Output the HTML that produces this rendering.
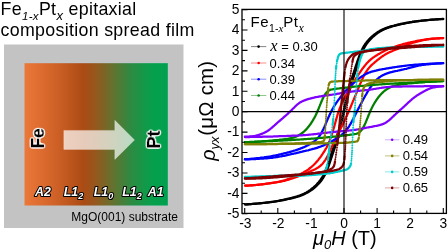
<!DOCTYPE html>
<html><head><meta charset="utf-8"><title>Fe1-xPtx epitaxial composition spread film</title>
<style>
html,body{margin:0;padding:0;background:#fff;}
body{width:448px;height:252px;overflow:hidden;}
svg{display:block;}
text{font-family:"Liberation Sans",sans-serif;fill:#000;}
.ser{font-family:"Liberation Serif",serif;font-style:italic;}
</style></head><body>
<svg width="448" height="252" viewBox="0 0 448 252">
<defs>
<linearGradient id="film" x1="0" y1="0" x2="1" y2="0">
<stop offset="0" stop-color="#ec783a"/>
<stop offset="0.22" stop-color="#cf6127"/>
<stop offset="0.41" stop-color="#ab4b14"/>
<stop offset="0.5" stop-color="#94581e"/>
<stop offset="0.6" stop-color="#6b6e2c"/>
<stop offset="0.74" stop-color="#2e8a42"/>
<stop offset="0.88" stop-color="#089f4c"/>
<stop offset="1" stop-color="#00a04e"/>
</linearGradient>
<linearGradient id="arr" x1="0" y1="0" x2="1" y2="0">
<stop offset="0" stop-color="#fff" stop-opacity="0.72"/>
<stop offset="1" stop-color="#fff" stop-opacity="0.68"/>
</linearGradient>
<filter id="halo" filterUnits="userSpaceOnUse" x="20" y="115" width="155" height="50">
<feGaussianBlur in="SourceAlpha" stdDeviation="1.05" result="g"/>
<feComponentTransfer in="g" result="b"><feFuncA type="linear" slope="5" intercept="-0.25"/></feComponentTransfer>
<feFlood flood-color="#fff" flood-opacity="0.95"/>
<feComposite in2="b" operator="in" result="h"/>
<feMerge><feMergeNode in="h"/><feMergeNode in="SourceGraphic"/></feMerge>
</filter>
<clipPath id="clip"><rect x="242.0" y="9.4" width="204.39999999999998" height="204.0"/></clipPath>
</defs>
<rect width="448" height="252" fill="#fff"/>
<!-- left panel -->
<text id="t1" x="0.6" y="15.1" font-size="17.8" letter-spacing="0.32">Fe<tspan font-size="11.5" font-style="italic" dy="5">1-x</tspan><tspan dy="-5">Pt</tspan><tspan font-size="13" font-style="italic" dy="5">x</tspan><tspan dy="-5"> epitaxial</tspan></text>
<text id="t2" x="0.5" y="36.2" font-size="17.8" letter-spacing="0.32">composition spread film</text>
<rect x="4" y="44.5" width="179.5" height="183.5" fill="#c3c3c3"/>
<rect x="24.2" y="63" width="143.8" height="142.8" fill="url(#film)" stroke="#b9d3e0" stroke-width="0.5" stroke-opacity="0.7"/>
<path d="M63.8,130.4H114.8V120.3L134.5,139.9L114.8,159.5V149.4H63.8Z" fill="url(#arr)" stroke="#fff" stroke-opacity="0.3" stroke-width="0.8"/>
<g font-weight="bold" font-size="17.5" stroke="#000" stroke-width="0.4" stroke-linejoin="round" filter="url(#halo)">
<text transform="translate(44,148.6) rotate(-90)">Fe</text>
<text transform="translate(160.4,148.6) rotate(-90)" font-size="18.2">Pt</text>
</g>
<g font-weight="bold" font-style="italic" font-size="12.4" fill="#fff" stroke="#000" stroke-width="2" stroke-linejoin="round" style="paint-order:stroke">
<text x="35" y="196.4" style="fill:#fff">A2</text>
<text x="63.7" y="196.4" style="fill:#fff">L1<tspan font-size="9" dy="3">2</tspan></text>
<text x="93.7" y="196.4" style="fill:#fff">L1<tspan font-size="9" dy="3">0</tspan></text>
<text x="122.3" y="196.4" style="fill:#fff">L1<tspan font-size="9" dy="3">2</tspan></text>
<text x="147.8" y="196.4" style="fill:#fff">A1</text>
</g>
<text x="71.3" y="221.4" font-size="12">MgO(001) substrate</text>
<!-- plot -->
<g clip-path="url(#clip)">
<path d="M245.2,204.4L246.2,204.3L247.2,204.3L248.2,204.2L249.2,204.1L250.2,204.0L251.2,204.0L252.2,203.9L253.3,203.8L254.3,203.7L255.3,203.7L256.3,203.6L257.3,203.5L258.3,203.4L259.3,203.3L260.3,203.2L261.3,203.1L262.3,203.0L263.3,202.9L264.3,202.8L265.3,202.7L266.3,202.5L267.3,202.4L268.3,202.3L269.3,202.2L270.3,202.0L271.3,201.9L272.3,201.8L273.4,201.6L274.4,201.5L275.4,201.3L276.4,201.1L277.4,201.0L278.4,200.8L279.4,200.6L280.4,200.4L281.4,200.2L282.4,200.0L283.4,199.8L284.4,199.6L285.4,199.4L286.4,199.2L287.4,198.9L288.4,198.7L289.4,198.5L290.4,198.2L291.4,198.0L292.4,197.7L293.5,197.4L294.5,197.2L295.5,196.9L296.5,196.6L297.5,196.3L298.5,195.9L299.5,195.6L300.5,195.2L301.5,194.8L302.5,194.4L303.5,193.9L304.5,193.5L305.5,192.9L306.5,192.4L307.5,191.8L308.5,191.2L309.5,190.5L310.5,189.8L311.5,189.0L312.5,188.2L313.6,187.3L314.6,186.4L315.6,185.5L316.6,184.5L317.6,183.4L318.6,182.3L319.6,181.0L320.6,179.7L321.6,178.2L322.6,176.6L323.1,175.7L323.6,174.7L324.1,173.7L324.6,172.7L325.1,171.6L325.6,170.4L326.1,169.1L326.6,167.8L327.1,166.5L327.6,165.1L328.1,163.7L328.6,162.2L329.1,160.7L329.6,159.2L330.1,157.7L330.6,156.2L331.1,154.6L331.6,153.1L332.1,151.5L332.6,150.0L333.1,148.4L333.7,146.8L334.2,145.2L334.7,143.6L335.2,142.0L335.7,140.3L336.2,138.6L336.7,136.9L337.2,135.1L337.7,133.3L338.2,131.4L338.7,129.5L339.2,127.6L339.7,125.6L340.2,123.6L340.7,121.5L341.2,119.4L341.7,117.3L342.2,115.2L342.7,113.1L343.2,111.0L343.7,108.9L344.2,106.8L344.7,104.7L345.2,102.6L345.7,100.5L346.2,98.5L346.7,96.5L347.2,94.5L347.7,92.6L348.2,90.7L348.7,88.9L349.2,87.1L349.7,85.4L350.2,83.6L350.7,82.0L351.2,80.3L351.7,78.7L352.2,77.1L352.7,75.5L353.2,73.9L353.8,72.4L354.3,70.8L354.8,69.3L355.3,67.7L355.8,66.2L356.3,64.7L356.8,63.2L357.3,61.7L357.8,60.2L358.3,58.8L358.8,57.4L359.3,56.0L359.8,54.7L360.3,53.4L360.8,52.2L361.3,51.1L361.8,50.0L362.3,49.0L362.8,48.0L363.3,47.1L364.3,45.4L365.3,43.9L366.3,42.6L367.3,41.3L368.3,40.2L369.3,39.1L370.3,38.1L371.3,37.1L372.3,36.2L373.3,35.3L374.4,34.5L375.4,33.7L376.4,33.0L377.4,32.3L378.4,31.7L379.4,31.1L380.4,30.5L381.4,30.0L382.4,29.5L383.4,29.1L384.4,28.6L385.4,28.2L386.4,27.9L387.4,27.5L388.4,27.2L389.4,26.9L390.4,26.6L391.4,26.3L392.4,26.0L393.4,25.7L394.5,25.5L395.5,25.2L396.5,25.0L397.5,24.7L398.5,24.5L399.5,24.3L400.5,24.0L401.5,23.8L402.5,23.6L403.5,23.4L404.5,23.2L405.5,23.0L406.5,22.8L407.5,22.6L408.5,22.5L409.5,22.3L410.5,22.1L411.5,22.0L412.5,21.8L413.5,21.7L414.6,21.5L415.6,21.4L416.6,21.2L417.6,21.1L418.6,21.0L419.6,20.9L420.6,20.8L421.6,20.6L422.6,20.5L423.6,20.4L424.6,20.3L425.6,20.2L426.6,20.1L427.6,20.0L428.6,19.9L429.6,19.8L430.6,19.8L431.6,19.7L432.6,19.6L433.6,19.5L434.7,19.4L435.7,19.4L436.7,19.3L437.7,19.2L438.7,19.2L439.7,19.1L440.7,19.0L441.7,19.0L442.7,18.9" fill="none" stroke="#000000" stroke-width="0.7" stroke-opacity="0.7"/>
<path d="M245.2,204.4L246.2,204.3L247.2,204.3L248.2,204.2L249.2,204.1L250.2,204.0L251.2,204.0L252.2,203.9L253.3,203.8L254.3,203.7L255.3,203.7L256.3,203.6L257.3,203.5L258.3,203.4L259.3,203.3L260.3,203.2L261.3,203.1L262.3,203.0L263.3,202.9L264.3,202.8L265.3,202.7L266.3,202.5L267.3,202.4L268.3,202.3L269.3,202.2L270.3,202.0L271.3,201.9L272.3,201.8L273.4,201.6L274.4,201.5L275.4,201.3L276.4,201.1L277.4,201.0L278.4,200.8L279.4,200.6L280.4,200.4L281.4,200.2L282.4,200.0L283.4,199.8L284.4,199.6L285.4,199.4L286.4,199.2L287.4,198.9L288.4,198.7L289.4,198.5L290.4,198.2L291.4,198.0L292.4,197.7L293.5,197.4L294.5,197.2L295.5,196.9L296.5,196.6L297.5,196.3L298.5,195.9L299.5,195.6L300.5,195.2L301.5,194.8L302.5,194.4L303.5,193.9L304.5,193.5L305.5,192.9L306.5,192.4L307.5,191.8L308.5,191.2L309.5,190.5L310.5,189.8L311.5,189.0L312.5,188.2L313.6,187.3L314.6,186.4L315.6,185.5L316.1,185.0L316.6,184.5L317.1,183.9L317.6,183.4L318.1,182.8L318.6,182.3L319.1,181.7L319.6,181.0L320.1,180.4L320.6,179.7L321.1,179.0L321.6,178.2L322.1,177.4L322.6,176.6L323.1,175.7L323.6,174.7L324.1,173.7L324.6,172.7L325.1,171.6L325.6,170.4L326.1,169.1L326.6,167.8L327.1,166.5L327.6,165.1L328.1,163.7L328.6,162.2L329.1,160.7L329.6,159.2L330.1,157.7L330.6,156.2L331.1,154.6L331.6,153.1L332.1,151.5L332.6,150.0L333.1,148.4L333.7,146.8L334.2,145.2L334.7,143.6L335.2,142.0L335.7,140.3L336.2,138.6L336.7,136.9L337.2,135.1L337.7,133.3M348.7,88.9L349.2,87.1L349.7,85.4L350.2,83.6L350.7,82.0L351.2,80.3L351.7,78.7L352.2,77.1L352.7,75.5L353.2,73.9L353.8,72.4L354.3,70.8L354.8,69.3L355.3,67.7L355.8,66.2L356.3,64.7L356.8,63.2L357.3,61.7L357.8,60.2L358.3,58.8L358.8,57.4L359.3,56.0L359.8,54.7L360.3,53.4L360.8,52.2L361.3,51.1L361.8,50.0L362.3,49.0L362.8,48.0L363.3,47.1L363.8,46.2L364.3,45.4L364.8,44.7L365.3,43.9L365.8,43.2L366.3,42.6L366.8,41.9L367.3,41.3L367.8,40.8L368.3,40.2L368.8,39.6L369.3,39.1L369.8,38.6L370.3,38.1L370.8,37.6L371.8,36.7L372.8,35.8L373.9,34.9L374.9,34.1L375.9,33.4L376.9,32.7L377.9,32.0L378.9,31.4L379.9,30.8L380.9,30.3L381.9,29.8L382.9,29.3L383.9,28.9L384.9,28.4L385.9,28.0L386.9,27.7L387.9,27.3L388.9,27.0L389.9,26.7L390.9,26.4L391.9,26.1L392.9,25.9L394.0,25.6L395.0,25.3L396.0,25.1L397.0,24.8L398.0,24.6L399.0,24.4L400.0,24.2L401.0,23.9L402.0,23.7L403.0,23.5L404.0,23.3L405.0,23.1L406.0,22.9L407.0,22.7L408.0,22.5L409.0,22.4L410.0,22.2L411.0,22.0L412.0,21.9L413.0,21.7L414.1,21.6L415.1,21.4L416.1,21.3L417.1,21.2L418.1,21.1L419.1,20.9L420.1,20.8L421.1,20.7L422.1,20.6L423.1,20.5L424.1,20.4L425.1,20.3L426.1,20.2L427.1,20.1L428.1,20.0L429.1,19.9L430.1,19.8L431.1,19.7L432.1,19.6L433.1,19.6L434.2,19.5L435.2,19.4L436.2,19.3L437.2,19.3L438.2,19.2L439.2,19.1L440.2,19.1L441.2,19.0L442.2,18.9L443.2,18.9" fill="none" stroke="#000000" stroke-width="2.25" stroke-linecap="round" stroke-linejoin="round"/>
<path d="M338.2,131.4h0M338.7,129.5h0M339.2,127.6h0M339.7,125.6h0M340.2,123.6h0M340.7,121.5h0M341.2,119.4h0M341.7,117.3h0M342.2,115.2h0M342.7,113.1h0M343.2,111.0h0M343.7,108.9h0M344.2,106.8h0M344.7,104.7h0M345.2,102.6h0M345.7,100.5h0M346.2,98.5h0M346.7,96.5h0M347.2,94.5h0M347.7,92.6h0M348.2,90.7h0" fill="none" stroke="#000000" stroke-width="1.9" stroke-linecap="round"/>
<path d="M245.2,204.5L246.2,204.4L247.2,204.3L248.2,204.3L249.2,204.2L250.2,204.1L251.2,204.1L252.2,204.0L253.3,203.9L254.3,203.8L255.3,203.8L256.3,203.7L257.3,203.6L258.3,203.5L259.3,203.4L260.3,203.3L261.3,203.2L262.3,203.1L263.3,203.0L264.3,202.9L265.3,202.8L266.3,202.7L267.3,202.6L268.3,202.5L269.3,202.3L270.3,202.2L271.3,202.1L272.3,202.0L273.4,201.8L274.4,201.7L275.4,201.5L276.4,201.4L277.4,201.2L278.4,201.0L279.4,200.9L280.4,200.7L281.4,200.5L282.4,200.3L283.4,200.1L284.4,199.9L285.4,199.7L286.4,199.5L287.4,199.2L288.4,199.0L289.4,198.8L290.4,198.6L291.4,198.3L292.4,198.1L293.5,197.8L294.5,197.5L295.5,197.3L296.5,197.0L297.5,196.7L298.5,196.4L299.5,196.1L300.5,195.7L301.5,195.4L302.5,195.0L303.5,194.5L304.5,194.1L305.5,193.6L306.5,193.1L307.5,192.6L308.5,192.0L309.5,191.4L310.5,190.7L311.5,190.0L312.5,189.3L313.6,188.5L314.6,187.6L315.6,186.7L316.6,185.8L317.6,184.8L318.6,183.8L319.6,182.6L320.6,181.5L321.6,180.2L322.6,178.7L323.6,177.2L324.6,175.4L325.1,174.4L325.6,173.4L326.1,172.3L326.6,171.2L327.1,170.0L327.6,168.7L328.1,167.4L328.6,166.0L329.1,164.6L329.6,163.2L330.1,161.7L330.6,160.2L331.1,158.7L331.6,157.2L332.1,155.7L332.6,154.1L333.1,152.6L333.7,151.0L334.2,149.5L334.7,147.9L335.2,146.3L335.7,144.7L336.2,143.1L336.7,141.4L337.2,139.8L337.7,138.0L338.2,136.3L338.7,134.5L339.2,132.7L339.7,130.8L340.2,128.9L340.7,126.9L341.2,124.9L341.7,122.9L342.2,120.8L342.7,118.7L343.2,116.6L343.7,114.5L344.2,112.4L344.7,110.3L345.2,108.2L345.7,106.1L346.2,104.0L346.7,101.9L347.2,99.8L347.7,97.8L348.2,95.8L348.7,93.9L349.2,92.0L349.7,90.1L350.2,88.3L350.7,86.5L351.2,84.8L351.7,83.1L352.2,81.4L352.7,79.8L353.2,78.2L353.8,76.6L354.3,75.0L354.8,73.4L355.3,71.9L355.8,70.3L356.3,68.8L356.8,67.2L357.3,65.7L357.8,64.2L358.3,62.7L358.8,61.2L359.3,59.7L359.8,58.3L360.3,56.9L360.8,55.6L361.3,54.3L361.8,53.0L362.3,51.8L362.8,50.7L363.3,49.7L363.8,48.7L364.3,47.7L364.8,46.8L365.8,45.2L366.8,43.7L367.8,42.4L368.8,41.1L369.8,40.0L370.8,38.9L371.8,37.9L372.8,37.0L373.9,36.1L374.9,35.2L375.9,34.4L376.9,33.6L377.9,32.9L378.9,32.2L379.9,31.6L380.9,31.0L381.9,30.5L382.9,29.9L383.9,29.5L384.9,29.0L385.9,28.6L386.9,28.2L387.9,27.8L388.9,27.5L389.9,27.1L390.9,26.8L391.9,26.5L392.9,26.2L394.0,26.0L395.0,25.7L396.0,25.4L397.0,25.2L398.0,24.9L399.0,24.7L400.0,24.5L401.0,24.2L402.0,24.0L403.0,23.8L404.0,23.6L405.0,23.4L406.0,23.2L407.0,23.0L408.0,22.8L409.0,22.6L410.0,22.4L411.0,22.3L412.0,22.1L413.0,21.9L414.1,21.8L415.1,21.6L416.1,21.5L417.1,21.4L418.1,21.2L419.1,21.1L420.1,21.0L421.1,20.9L422.1,20.7L423.1,20.6L424.1,20.5L425.1,20.4L426.1,20.3L427.1,20.2L428.1,20.1L429.1,20.0L430.1,19.9L431.1,19.8L432.1,19.7L433.1,19.7L434.2,19.6L435.2,19.5L436.2,19.4L437.2,19.4L438.2,19.3L439.2,19.2L440.2,19.1L441.2,19.1L442.2,19.0L443.2,19.0" fill="none" stroke="#000000" stroke-width="0.7" stroke-opacity="0.7"/>
<path d="M245.2,204.5L246.2,204.4L247.2,204.3L248.2,204.3L249.2,204.2L250.2,204.1L251.2,204.1L252.2,204.0L253.3,203.9L254.3,203.8L255.3,203.8L256.3,203.7L257.3,203.6L258.3,203.5L259.3,203.4L260.3,203.3L261.3,203.2L262.3,203.1L263.3,203.0L264.3,202.9L265.3,202.8L266.3,202.7L267.3,202.6L268.3,202.5L269.3,202.3L270.3,202.2L271.3,202.1L272.3,202.0L273.4,201.8L274.4,201.7L275.4,201.5L276.4,201.4L277.4,201.2L278.4,201.0L279.4,200.9L280.4,200.7L281.4,200.5L282.4,200.3L283.4,200.1L284.4,199.9L285.4,199.7L286.4,199.5L287.4,199.2L288.4,199.0L289.4,198.8L290.4,198.6L291.4,198.3L292.4,198.1L293.5,197.8L294.5,197.5L295.5,197.3L296.5,197.0L297.5,196.7L298.5,196.4L299.5,196.1L300.5,195.7L301.5,195.4L302.5,195.0L303.5,194.5L304.5,194.1L305.5,193.6L306.5,193.1L307.5,192.6L308.5,192.0L309.5,191.4L310.5,190.7L311.5,190.0L312.5,189.3L313.6,188.5L314.6,187.6L315.6,186.7L316.6,185.8L317.1,185.3L317.6,184.8L318.1,184.3L318.6,183.8L319.1,183.2L319.6,182.6L320.1,182.1L320.6,181.5L321.1,180.8L321.6,180.2L322.1,179.5L322.6,178.7L323.1,178.0L323.6,177.2L324.1,176.3L324.6,175.4L325.1,174.4L325.6,173.4L326.1,172.3L326.6,171.2L327.1,170.0L327.6,168.7L328.1,167.4L328.6,166.0L329.1,164.6L329.6,163.2L330.1,161.7L330.6,160.2L331.1,158.7L331.6,157.2L332.1,155.7L332.6,154.1L333.1,152.6L333.7,151.0L334.2,149.5L334.7,147.9L335.2,146.3L335.7,144.7L336.2,143.1L336.7,141.4L337.2,139.8L337.7,138.0L338.2,136.3L338.7,134.5M349.7,90.1L350.2,88.3L350.7,86.5L351.2,84.8L351.7,83.1L352.2,81.4L352.7,79.8L353.2,78.2L353.8,76.6L354.3,75.0L354.8,73.4L355.3,71.9L355.8,70.3L356.3,68.8L356.8,67.2L357.3,65.7L357.8,64.2L358.3,62.7L358.8,61.2L359.3,59.7L359.8,58.3L360.3,56.9L360.8,55.6L361.3,54.3L361.8,53.0L362.3,51.8L362.8,50.7L363.3,49.7L363.8,48.7L364.3,47.7L364.8,46.8L365.3,46.0L365.8,45.2L366.3,44.4L366.8,43.7L367.3,43.0L367.8,42.4L368.3,41.7L368.8,41.1L369.3,40.6L369.8,40.0L370.3,39.5L370.8,38.9L371.3,38.4L371.8,37.9L372.8,37.0L373.9,36.1L374.9,35.2L375.9,34.4L376.9,33.6L377.9,32.9L378.9,32.2L379.9,31.6L380.9,31.0L381.9,30.5L382.9,29.9L383.9,29.5L384.9,29.0L385.9,28.6L386.9,28.2L387.9,27.8L388.9,27.5L389.9,27.1L390.9,26.8L391.9,26.5L392.9,26.2L394.0,26.0L395.0,25.7L396.0,25.4L397.0,25.2L398.0,24.9L399.0,24.7L400.0,24.5L401.0,24.2L402.0,24.0L403.0,23.8L404.0,23.6L405.0,23.4L406.0,23.2L407.0,23.0L408.0,22.8L409.0,22.6L410.0,22.4L411.0,22.3L412.0,22.1L413.0,21.9L414.1,21.8L415.1,21.6L416.1,21.5L417.1,21.4L418.1,21.2L419.1,21.1L420.1,21.0L421.1,20.9L422.1,20.7L423.1,20.6L424.1,20.5L425.1,20.4L426.1,20.3L427.1,20.2L428.1,20.1L429.1,20.0L430.1,19.9L431.1,19.8L432.1,19.7L433.1,19.7L434.2,19.6L435.2,19.5L436.2,19.4L437.2,19.4L438.2,19.3L439.2,19.2L440.2,19.1L441.2,19.1L442.2,19.0L443.2,19.0" fill="none" stroke="#000000" stroke-width="2.25" stroke-linecap="round" stroke-linejoin="round"/>
<path d="M339.2,132.7h0M339.7,130.8h0M340.2,128.9h0M340.7,126.9h0M341.2,124.9h0M341.7,122.9h0M342.2,120.8h0M342.7,118.7h0M343.2,116.6h0M343.7,114.5h0M344.2,112.4h0M344.7,110.3h0M345.2,108.2h0M345.7,106.1h0M346.2,104.0h0M346.7,101.9h0M347.2,99.8h0M347.7,97.8h0M348.2,95.8h0M348.7,93.9h0M349.2,92.0h0" fill="none" stroke="#000000" stroke-width="1.9" stroke-linecap="round"/>
<path d="M245.2,185.7L246.2,185.7L247.2,185.6L248.2,185.6L249.2,185.5L250.2,185.4L251.2,185.4L252.2,185.3L253.3,185.2L254.3,185.1L255.3,185.0L256.3,184.9L257.3,184.8L258.3,184.7L259.3,184.6L260.3,184.5L261.3,184.4L262.3,184.3L263.3,184.1L264.3,184.0L265.3,183.9L266.3,183.7L267.3,183.6L268.3,183.4L269.3,183.3L270.3,183.1L271.3,183.0L272.3,182.8L273.4,182.7L274.4,182.5L275.4,182.3L276.4,182.2L277.4,182.0L278.4,181.8L279.4,181.6L280.4,181.4L281.4,181.2L282.4,180.9L283.4,180.7L284.4,180.4L285.4,180.1L286.4,179.7L287.4,179.4L288.4,179.0L289.4,178.6L290.4,178.2L291.4,177.8L292.4,177.4L293.5,177.0L294.5,176.6L295.5,176.2L296.5,175.8L297.5,175.3L298.5,174.9L299.5,174.4L300.5,173.9L301.5,173.5L302.5,172.9L303.5,172.4L304.5,171.8L305.5,171.2L306.5,170.6L307.5,170.0L308.5,169.3L309.5,168.5L310.5,167.7L311.5,166.9L312.5,166.0L313.6,165.0L314.6,164.0L315.6,163.0L316.6,161.9L317.6,160.7L318.6,159.4L319.6,158.1L320.6,156.8L321.6,155.3L322.6,153.9L323.6,152.4L324.6,150.8L325.6,149.2L326.6,147.5L327.1,146.5L327.6,145.5L328.1,144.5L328.6,143.4L329.1,142.2L329.6,141.0L330.1,139.6L330.6,138.2L331.1,136.8L331.6,135.2L332.1,133.6L332.6,131.9L333.1,130.2L333.7,128.4L334.2,126.6L334.7,124.8L335.2,123.0L335.7,121.2L336.2,119.4L336.7,117.7L337.2,116.0L337.7,114.3L338.2,112.7L338.7,111.2L339.2,109.8L339.7,108.4L340.2,107.1L340.7,105.9L341.2,104.7L341.7,103.6L342.2,102.5L342.7,101.5L343.2,100.5L343.7,99.5L344.2,98.5L344.7,97.6L345.2,96.7L345.7,95.8L346.2,94.9L346.7,94.0L347.2,93.1L347.7,92.2L348.2,91.3L348.7,90.5L349.7,88.8L350.7,87.1L351.7,85.4L352.7,83.7L353.8,82.1L354.8,80.4L355.8,78.8L356.8,77.2L357.8,75.6L358.8,74.0L359.8,72.5L360.8,71.0L361.8,69.6L362.8,68.3L363.8,67.0L364.8,65.7L365.8,64.5L366.8,63.3L367.8,62.3L368.8,61.2L369.8,60.3L370.8,59.4L371.8,58.6L372.8,57.8L373.9,57.1L374.9,56.4L375.9,55.8L376.9,55.2L377.9,54.5L378.9,53.9L379.9,53.4L380.9,52.8L381.9,52.3L382.9,51.7L383.9,51.2L384.9,50.7L385.9,50.2L386.9,49.8L387.9,49.3L388.9,48.9L389.9,48.5L390.9,48.1L391.9,47.7L392.9,47.4L394.0,47.0L395.0,46.7L396.0,46.3L397.0,46.0L398.0,45.7L399.0,45.4L400.0,45.1L401.0,44.8L402.0,44.5L403.0,44.2L404.0,43.9L405.0,43.7L406.0,43.4L407.0,43.2L408.0,42.9L409.0,42.7L410.0,42.5L411.0,42.2L412.0,42.0L413.0,41.8L414.1,41.6L415.1,41.4L416.1,41.1L417.1,40.9L418.1,40.7L419.1,40.5L420.1,40.3L421.1,40.2L422.1,40.0L423.1,39.8L424.1,39.7L425.1,39.5L426.1,39.4L427.1,39.2L428.1,39.1L429.1,39.0L430.1,38.9L431.1,38.8L432.1,38.7L433.1,38.6L434.2,38.6L435.2,38.5L436.2,38.4L437.2,38.4L438.2,38.3L439.2,38.3L440.2,38.2L441.2,38.2L442.2,38.1L443.2,38.1" fill="none" stroke="#ff0000" stroke-width="0.7" stroke-opacity="0.7"/>
<path d="M245.2,185.7L246.2,185.7L247.2,185.6L248.2,185.6L249.2,185.5L250.2,185.4L251.2,185.4L252.2,185.3L253.3,185.2L254.3,185.1L255.3,185.0L256.3,184.9L257.3,184.8L258.3,184.7L259.3,184.6L260.3,184.5L261.3,184.4L262.3,184.3L263.3,184.1L264.3,184.0L265.3,183.9L266.3,183.7L267.3,183.6L268.3,183.4L269.3,183.3L270.3,183.1L271.3,183.0L272.3,182.8L273.4,182.7L274.4,182.5L275.4,182.3L276.4,182.2L277.4,182.0L278.4,181.8L279.4,181.6L280.4,181.4L281.4,181.2L282.4,180.9L283.4,180.7L284.4,180.4L285.4,180.1L286.4,179.7L287.4,179.4L288.4,179.0L289.4,178.6L290.4,178.2L291.4,177.8L292.4,177.4L293.5,177.0L294.5,176.6L295.5,176.2L296.5,175.8L297.5,175.3L298.5,174.9L299.5,174.4L300.5,173.9L301.5,173.5L302.5,172.9L303.5,172.4L304.5,171.8L305.5,171.2L306.5,170.6L307.5,170.0L308.5,169.3L309.5,168.5L310.5,167.7L311.5,166.9L312.5,166.0L313.6,165.0L314.1,164.5L314.6,164.0L315.1,163.5L315.6,163.0L316.1,162.4L316.6,161.9L317.1,161.3L317.6,160.7L318.1,160.1L318.6,159.4L319.1,158.8L319.6,158.1L320.1,157.5L320.6,156.8L321.1,156.1L321.6,155.3L322.1,154.6L322.6,153.9L323.1,153.1L323.6,152.4L324.1,151.6L324.6,150.8L325.1,150.0L325.6,149.2L326.1,148.3L326.6,147.5L327.1,146.5L327.6,145.5L328.1,144.5L328.6,143.4L329.1,142.2L329.6,141.0L330.1,139.6L330.6,138.2L331.1,136.8L331.6,135.2L332.1,133.6L332.6,131.9L333.1,130.2L333.7,128.4L334.2,126.6L334.7,124.8L335.2,123.0L335.7,121.2L336.2,119.4L336.7,117.7L337.2,116.0L337.7,114.3L338.2,112.7L338.7,111.2L339.2,109.8L339.7,108.4L340.2,107.1L340.7,105.9L341.2,104.7L341.7,103.6L342.2,102.5L342.7,101.5L343.2,100.5L343.7,99.5L344.2,98.5L344.7,97.6L345.2,96.7L345.7,95.8L346.2,94.9L346.7,94.0L347.2,93.1L347.7,92.2L348.2,91.3L348.7,90.5L349.2,89.6L349.7,88.8L350.2,87.9L350.7,87.1L351.2,86.2L351.7,85.4L352.2,84.6L352.7,83.7L353.2,82.9L353.8,82.1L354.3,81.2L354.8,80.4L355.3,79.6L355.8,78.8L356.3,78.0L356.8,77.2L357.3,76.4L357.8,75.6L358.3,74.8L358.8,74.0L359.3,73.3L359.8,72.5L360.3,71.8L360.8,71.0L361.3,70.3L361.8,69.6L362.3,68.9L362.8,68.3L363.3,67.6L363.8,67.0L364.3,66.3L364.8,65.7L365.3,65.1L365.8,64.5L366.3,63.9L366.8,63.3L367.3,62.8L367.8,62.3L368.3,61.7L368.8,61.2L369.8,60.3L370.8,59.4L371.8,58.6L372.8,57.8L373.9,57.1L374.9,56.4L375.9,55.8L376.9,55.2L377.9,54.5L378.9,53.9L379.9,53.4L380.9,52.8L381.9,52.3L382.9,51.7L383.9,51.2L384.9,50.7L385.9,50.2L386.9,49.8L387.9,49.3L388.9,48.9L389.9,48.5L390.9,48.1L391.9,47.7L392.9,47.4L394.0,47.0L395.0,46.7L396.0,46.3L397.0,46.0L398.0,45.7L399.0,45.4L400.0,45.1L401.0,44.8L402.0,44.5L403.0,44.2L404.0,43.9L405.0,43.7L406.0,43.4L407.0,43.2L408.0,42.9L409.0,42.7L410.0,42.5L411.0,42.2L412.0,42.0L413.0,41.8L414.1,41.6L415.1,41.4L416.1,41.1L417.1,40.9L418.1,40.7L419.1,40.5L420.1,40.3L421.1,40.2L422.1,40.0L423.1,39.8L424.1,39.7L425.1,39.5L426.1,39.4L427.1,39.2L428.1,39.1L429.1,39.0L430.1,38.9L431.1,38.8L432.1,38.7L433.1,38.6L434.2,38.6L435.2,38.5L436.2,38.4L437.2,38.4L438.2,38.3L439.2,38.3L440.2,38.2L441.2,38.2L442.2,38.1L443.2,38.1" fill="none" stroke="#ff0000" stroke-width="2.25" stroke-linecap="round" stroke-linejoin="round"/>
<path d="M245.2,185.7L246.2,185.7L247.2,185.6L248.2,185.6L249.2,185.5L250.2,185.4L251.2,185.4L252.2,185.3L253.3,185.2L254.3,185.1L255.3,185.1L256.3,185.0L257.3,184.9L258.3,184.8L259.3,184.6L260.3,184.5L261.3,184.4L262.3,184.3L263.3,184.2L264.3,184.1L265.3,183.9L266.3,183.8L267.3,183.7L268.3,183.5L269.3,183.4L270.3,183.2L271.3,183.1L272.3,182.9L273.4,182.8L274.4,182.6L275.4,182.5L276.4,182.3L277.4,182.2L278.4,182.0L279.4,181.8L280.4,181.6L281.4,181.4L282.4,181.2L283.4,181.0L284.4,180.8L285.4,180.5L286.4,180.2L287.4,179.9L288.4,179.6L289.4,179.3L290.4,179.0L291.4,178.7L292.4,178.4L293.5,178.0L294.5,177.7L295.5,177.3L296.5,177.0L297.5,176.6L298.5,176.2L299.5,175.8L300.5,175.4L301.5,175.0L302.5,174.6L303.5,174.2L304.5,173.8L305.5,173.3L306.5,172.9L307.5,172.5L308.5,172.1L309.5,171.7L310.5,171.2L311.5,170.8L312.5,170.4L313.6,169.9L314.6,169.5L315.6,169.0L316.6,168.4L317.6,167.8L318.6,167.2L319.6,166.5L320.6,165.6L321.6,164.7L322.6,163.6L323.6,162.4L324.6,161.0L325.6,159.5L326.6,157.8L327.1,156.9L327.6,155.9L328.1,155.0L328.6,153.9L329.1,152.9L329.6,151.8L330.1,150.7L330.6,149.6L331.1,148.5L331.6,147.4L332.1,146.3L332.6,145.2L333.1,144.1L333.7,143.0L334.2,141.9L334.7,140.8L335.2,139.7L335.7,138.7L336.2,137.6L336.7,136.6L337.2,135.6L337.7,134.5L338.2,133.5L338.7,132.5L339.2,131.5L339.7,130.5L340.2,129.5L340.7,128.4L341.2,127.4L341.7,126.4L342.2,125.4L342.7,124.4L343.2,123.4L343.7,122.3L344.2,121.3L344.7,120.2L345.2,119.2L345.7,118.1L346.2,117.0L346.7,115.9L347.2,114.8L347.7,113.7L348.2,112.6L348.7,111.5L349.2,110.3L349.7,109.1L350.2,108.0L350.7,106.8L351.2,105.6L351.7,104.4L352.2,103.2L352.7,101.9L353.2,100.7L353.8,99.5L354.3,98.2L354.8,97.0L355.3,95.8L355.8,94.6L356.3,93.3L356.8,92.1L357.3,90.9L357.8,89.7L358.3,88.4L358.8,87.2L359.3,86.0L359.8,84.8L360.3,83.6L360.8,82.5L361.3,81.3L361.8,80.2L362.3,79.1L362.8,78.0L363.3,76.9L363.8,75.9L364.3,75.0L364.8,74.0L365.3,73.2L366.3,71.5L367.3,70.1L368.3,68.7L369.3,67.5L370.3,66.4L371.3,65.4L372.3,64.4L373.3,63.5L374.4,62.6L375.4,61.8L376.4,61.0L377.4,60.1L378.4,59.3L379.4,58.6L380.4,57.8L381.4,57.1L382.4,56.4L383.4,55.7L384.4,55.1L385.4,54.4L386.4,53.9L387.4,53.3L388.4,52.8L389.4,52.3L390.4,51.8L391.4,51.4L392.4,50.9L393.4,50.5L394.5,50.1L395.5,49.7L396.5,49.3L397.5,48.9L398.5,48.5L399.5,48.1L400.5,47.7L401.5,47.2L402.5,46.8L403.5,46.4L404.5,46.0L405.5,45.5L406.5,45.1L407.5,44.7L408.5,44.3L409.5,43.9L410.5,43.6L411.5,43.2L412.5,42.9L413.5,42.6L414.6,42.3L415.6,42.0L416.6,41.7L417.6,41.5L418.6,41.2L419.6,41.0L420.6,40.8L421.6,40.5L422.6,40.3L423.6,40.1L424.6,39.9L425.6,39.7L426.6,39.6L427.6,39.4L428.6,39.2L429.6,39.1L430.6,39.0L431.6,38.9L432.6,38.8L433.6,38.7L434.7,38.6L435.7,38.5L436.7,38.5L437.7,38.4L438.7,38.3L439.7,38.3L440.7,38.2L441.7,38.2L442.7,38.1" fill="none" stroke="#ff0000" stroke-width="0.7" stroke-opacity="0.7"/>
<path d="M245.2,185.7L246.2,185.7L247.2,185.6L248.2,185.6L249.2,185.5L250.2,185.4L251.2,185.4L252.2,185.3L253.3,185.2L254.3,185.1L255.3,185.1L256.3,185.0L257.3,184.9L258.3,184.8L259.3,184.6L260.3,184.5L261.3,184.4L262.3,184.3L263.3,184.2L264.3,184.1L265.3,183.9L266.3,183.8L267.3,183.7L268.3,183.5L269.3,183.4L270.3,183.2L271.3,183.1L272.3,182.9L273.4,182.8L274.4,182.6L275.4,182.5L276.4,182.3L277.4,182.2L278.4,182.0L279.4,181.8L280.4,181.6L281.4,181.4L282.4,181.2L283.4,181.0L284.4,180.8L285.4,180.5L286.4,180.2L287.4,179.9L288.4,179.6L289.4,179.3L290.4,179.0L291.4,178.7L292.4,178.4L293.5,178.0L294.5,177.7L295.5,177.3L296.5,177.0L297.5,176.6L298.5,176.2L299.5,175.8L300.5,175.4L301.5,175.0L302.5,174.6L303.5,174.2L304.5,173.8L305.5,173.3L306.5,172.9L307.5,172.5L308.5,172.1L309.5,171.7L310.5,171.2L311.5,170.8L312.5,170.4L313.6,169.9L314.6,169.5L315.6,169.0L316.6,168.4L317.6,167.8L318.6,167.2L319.6,166.5L320.6,165.6L321.6,164.7L322.1,164.2L322.6,163.6L323.1,163.0L323.6,162.4L324.1,161.7L324.6,161.0L325.1,160.3L325.6,159.5L326.1,158.7L326.6,157.8L327.1,156.9L327.6,155.9L328.1,155.0L328.6,153.9L329.1,152.9L329.6,151.8L330.1,150.7L330.6,149.6L331.1,148.5L331.6,147.4L332.1,146.3L332.6,145.2L333.1,144.1L333.7,143.0L334.2,141.9L334.7,140.8L335.2,139.7L335.7,138.7L336.2,137.6L336.7,136.6L337.2,135.6L337.7,134.5L338.2,133.5L338.7,132.5L339.2,131.5L339.7,130.5L340.2,129.5L340.7,128.4L341.2,127.4L341.7,126.4L342.2,125.4L342.7,124.4L343.2,123.4L343.7,122.3L344.2,121.3L344.7,120.2L345.2,119.2L345.7,118.1L346.2,117.0L346.7,115.9L347.2,114.8L347.7,113.7L348.2,112.6L348.7,111.5L349.2,110.3L349.7,109.1L350.2,108.0L350.7,106.8L351.2,105.6L351.7,104.4L352.2,103.2L352.7,101.9L353.2,100.7L353.8,99.5L354.3,98.2L354.8,97.0L355.3,95.8L355.8,94.6L356.3,93.3L356.8,92.1L357.3,90.9L357.8,89.7L358.3,88.4L358.8,87.2L359.3,86.0L359.8,84.8L360.3,83.6L360.8,82.5L361.3,81.3L361.8,80.2L362.3,79.1L362.8,78.0L363.3,76.9L363.8,75.9L364.3,75.0L364.8,74.0L365.3,73.2L365.8,72.3L366.3,71.5L366.8,70.8L367.3,70.1L367.8,69.4L368.3,68.7L368.8,68.1L369.3,67.5L369.8,67.0L370.3,66.4L370.8,65.9L371.3,65.4L371.8,64.9L372.8,64.0L373.9,63.1L374.9,62.2L375.9,61.4L376.9,60.5L377.9,59.7L378.9,59.0L379.9,58.2L380.9,57.4L381.9,56.7L382.9,56.0L383.9,55.4L384.9,54.7L385.9,54.1L386.9,53.6L387.9,53.0L388.9,52.5L389.9,52.0L390.9,51.6L391.9,51.2L392.9,50.7L394.0,50.3L395.0,49.9L396.0,49.5L397.0,49.1L398.0,48.7L399.0,48.3L400.0,47.9L401.0,47.5L402.0,47.0L403.0,46.6L404.0,46.2L405.0,45.7L406.0,45.3L407.0,44.9L408.0,44.5L409.0,44.1L410.0,43.7L411.0,43.4L412.0,43.0L413.0,42.7L414.1,42.4L415.1,42.1L416.1,41.9L417.1,41.6L418.1,41.4L419.1,41.1L420.1,40.9L421.1,40.6L422.1,40.4L423.1,40.2L424.1,40.0L425.1,39.8L426.1,39.6L427.1,39.5L428.1,39.3L429.1,39.2L430.1,39.1L431.1,38.9L432.1,38.8L433.1,38.7L434.2,38.7L435.2,38.6L436.2,38.5L437.2,38.4L438.2,38.4L439.2,38.3L440.2,38.2L441.2,38.2L442.2,38.1L443.2,38.1" fill="none" stroke="#ff0000" stroke-width="2.25" stroke-linecap="round" stroke-linejoin="round"/>
<path d="M244.9,159.2L245.9,159.2L246.9,159.1L247.9,159.1L248.9,159.0L249.9,158.9L250.9,158.8L251.9,158.7L252.9,158.6L253.9,158.5L254.9,158.4L255.9,158.3L256.9,158.2L257.9,158.1L258.9,158.0L259.9,157.9L261.0,157.7L262.0,157.6L263.0,157.5L264.0,157.4L265.0,157.2L266.0,157.1L267.0,156.9L268.0,156.8L269.0,156.6L270.0,156.5L271.0,156.3L272.0,156.1L273.0,155.9L274.0,155.7L275.0,155.5L276.0,155.3L277.0,155.1L278.0,154.9L279.0,154.6L280.0,154.4L281.1,154.2L282.1,153.9L283.1,153.7L284.1,153.4L285.1,153.2L286.1,153.0L287.1,152.7L288.1,152.4L289.1,152.2L290.1,151.9L291.1,151.6L292.1,151.3L293.1,151.0L294.1,150.7L295.1,150.4L296.1,150.1L297.1,149.8L298.1,149.4L299.1,149.1L300.1,148.7L301.2,148.3L302.2,147.9L303.2,147.5L304.2,147.1L305.2,146.6L306.2,146.1L307.2,145.6L308.2,145.1L309.2,144.6L310.2,144.0L311.2,143.4L312.2,142.7L313.2,142.1L314.2,141.3L315.2,140.5L316.2,139.6L317.2,138.6L318.2,137.5L318.9,136.7L319.6,135.8L320.2,134.8L320.9,133.8L321.6,132.6L322.3,131.4L322.9,130.1L323.6,128.7L324.3,127.2L324.9,125.7L325.6,124.1L326.3,122.5L326.9,120.9L327.6,119.3L328.3,117.8L329.0,116.3L329.6,114.8L330.3,113.4L331.0,112.0L331.6,110.7L332.3,109.4L333.0,108.2L333.6,107.1L334.3,106.0L335.0,104.9L335.7,103.9L336.3,102.9L337.0,101.9L337.7,100.9L338.3,100.0L339.0,99.1L339.7,98.2L340.3,97.3L341.0,96.4L341.7,95.6L342.4,94.8L343.0,94.0L343.7,93.2L344.4,92.4L345.0,91.6L345.7,90.9L346.7,89.8L347.7,88.7L348.7,87.7L349.7,86.6L350.7,85.7L351.7,84.7L352.7,83.8L353.7,82.9L354.8,82.0L355.8,81.2L356.8,80.3L357.8,79.5L358.8,78.7L359.8,77.9L360.8,77.2L361.8,76.5L362.8,75.8L363.8,75.1L364.8,74.5L365.8,74.0L366.8,73.5L367.8,73.1L368.8,72.7L369.8,72.3L370.8,72.0L371.8,71.6L372.8,71.3L373.8,71.1L374.9,70.8L375.9,70.6L376.9,70.3L377.9,70.1L378.9,69.9L379.9,69.7L380.9,69.5L381.9,69.3L382.9,69.1L383.9,69.0L384.9,68.8L385.9,68.6L386.9,68.4L387.9,68.3L388.9,68.1L389.9,67.9L390.9,67.8L391.9,67.6L392.9,67.4L393.9,67.3L395.0,67.1L396.0,67.0L397.0,66.8L398.0,66.7L399.0,66.6L400.0,66.4L401.0,66.3L402.0,66.1L403.0,66.0L404.0,65.9L405.0,65.8L406.0,65.6L407.0,65.5L408.0,65.4L409.0,65.3L410.0,65.2L411.0,65.1L412.0,65.0L413.0,64.9L414.0,64.8L415.1,64.7L416.1,64.6L417.1,64.6L418.1,64.5L419.1,64.4L420.1,64.3L421.1,64.3L422.1,64.2L423.1,64.1L424.1,64.1L425.1,64.0L426.1,64.0L427.1,63.9L428.1,63.8L429.1,63.8L430.1,63.7L431.1,63.7L432.1,63.6L433.1,63.6L434.1,63.5L435.2,63.5L436.2,63.4L437.2,63.4L438.2,63.3L439.2,63.3L440.2,63.3L441.2,63.2L442.2,63.2L443.2,63.2" fill="none" stroke="#0000ff" stroke-width="0.7" stroke-opacity="0.7"/>
<path d="M244.9,159.2L245.9,159.2L246.9,159.1L247.9,159.1L248.9,159.0L249.9,158.9L250.9,158.8L251.9,158.7L252.9,158.6L253.9,158.5L254.9,158.4L255.9,158.3L256.9,158.2L257.9,158.1L258.9,158.0L259.9,157.9L261.0,157.7L262.0,157.6L263.0,157.5L264.0,157.4L265.0,157.2L266.0,157.1L267.0,156.9L268.0,156.8L269.0,156.6L270.0,156.5L271.0,156.3L272.0,156.1L273.0,155.9L274.0,155.7L275.0,155.5L276.0,155.3L277.0,155.1L278.0,154.9L279.0,154.6L280.0,154.4L281.1,154.2L282.1,153.9L283.1,153.7L284.1,153.4L285.1,153.2L286.1,153.0L287.1,152.7L288.1,152.4L289.1,152.2L290.1,151.9L291.1,151.6L292.1,151.3L293.1,151.0L294.1,150.7L294.8,150.5L295.5,150.3L296.1,150.1L296.8,149.9L297.5,149.7L298.1,149.4L298.8,149.2L299.5,148.9L300.1,148.7L300.8,148.4L301.5,148.2L302.2,147.9L302.8,147.6L303.5,147.3L304.2,147.1L304.8,146.8L305.5,146.4L306.2,146.1L306.8,145.8L307.5,145.5L308.2,145.1L308.9,144.8L309.5,144.4L310.2,144.0L310.9,143.6L311.5,143.2L312.2,142.7L312.9,142.3L313.5,141.8L314.2,141.3L314.9,140.8L315.6,140.2L316.2,139.6L316.9,139.0L317.6,138.3L318.2,137.5L318.9,136.7L319.6,135.8L320.2,134.8L320.9,133.8L321.6,132.6L322.3,131.4L322.6,130.7L322.9,130.1L323.3,129.4L323.6,128.7L323.9,127.9L324.3,127.2L324.6,126.4L324.9,125.7L325.3,124.9L325.6,124.1L325.9,123.3L326.3,122.5L326.6,121.7L326.9,120.9L327.3,120.1L327.6,119.3L328.0,118.5L328.3,117.8L328.6,117.0L329.0,116.3L329.3,115.5L329.6,114.8L330.0,114.1L330.3,113.4L330.6,112.7L331.0,112.0L331.3,111.3L331.6,110.7L332.0,110.1L332.3,109.4L333.0,108.2L333.6,107.1L334.3,106.0L335.0,104.9L335.7,103.9L336.3,102.9L337.0,101.9L337.7,100.9L338.3,100.0L339.0,99.1L339.7,98.2L340.3,97.3L341.0,96.4L341.7,95.6L342.4,94.8L343.0,94.0L343.7,93.2L344.4,92.4L345.0,91.6L345.7,90.9L346.4,90.1L347.0,89.4L347.7,88.7L348.4,88.0L349.1,87.3L349.7,86.6L350.4,86.0L351.1,85.3L351.7,84.7L352.4,84.1L353.1,83.5L353.7,82.9L354.4,82.3L355.1,81.7L355.8,81.2L356.4,80.6L357.1,80.0L357.8,79.5L358.4,79.0L359.1,78.4L359.8,77.9L360.4,77.4L361.1,76.9L361.8,76.5L362.5,76.0L363.1,75.6L363.8,75.1L364.5,74.7L365.1,74.4L365.8,74.0L366.5,73.7L367.1,73.4L367.8,73.1L368.5,72.8L369.2,72.5L369.8,72.3L370.5,72.1L371.2,71.8L371.8,71.6L372.8,71.3L373.8,71.1L374.9,70.8L375.9,70.6L376.9,70.3L377.9,70.1L378.9,69.9L379.9,69.7L380.9,69.5L381.9,69.3L382.9,69.1L383.9,69.0L384.9,68.8L385.9,68.6L386.9,68.4L387.9,68.3L388.9,68.1L389.9,67.9L390.9,67.8L391.9,67.6L392.9,67.4L393.9,67.3L395.0,67.1L396.0,67.0L397.0,66.8L398.0,66.7L399.0,66.6L400.0,66.4L401.0,66.3L402.0,66.1L403.0,66.0L404.0,65.9L405.0,65.8L406.0,65.6L407.0,65.5L408.0,65.4L409.0,65.3L410.0,65.2L411.0,65.1L412.0,65.0L413.0,64.9L414.0,64.8L415.1,64.7L416.1,64.6L417.1,64.6L418.1,64.5L419.1,64.4L420.1,64.3L421.1,64.3L422.1,64.2L423.1,64.1L424.1,64.1L425.1,64.0L426.1,64.0L427.1,63.9L428.1,63.8L429.1,63.8L430.1,63.7L431.1,63.7L432.1,63.6L433.1,63.6L434.1,63.5L435.2,63.5L436.2,63.4L437.2,63.4L438.2,63.3L439.2,63.3L440.2,63.3L441.2,63.2L442.2,63.2L443.2,63.2" fill="none" stroke="#0000ff" stroke-width="2.25" stroke-linecap="round" stroke-linejoin="round"/>
<path d="M244.9,159.4L245.9,159.4L246.9,159.4L247.9,159.3L248.9,159.3L249.9,159.3L250.9,159.2L251.9,159.2L252.9,159.1L253.9,159.1L254.9,159.0L255.9,159.0L256.9,158.9L257.9,158.9L258.9,158.8L259.9,158.7L261.0,158.7L262.0,158.6L263.0,158.5L264.0,158.5L265.0,158.4L266.0,158.3L267.0,158.3L268.0,158.2L269.0,158.1L270.0,158.0L271.0,157.9L272.0,157.8L273.0,157.6L274.0,157.5L275.0,157.4L276.0,157.2L277.0,157.1L278.0,156.9L279.0,156.7L280.0,156.5L281.1,156.4L282.1,156.2L283.1,156.0L284.1,155.8L285.1,155.6L286.1,155.3L287.1,155.1L288.1,154.9L289.1,154.7L290.1,154.5L291.1,154.2L292.1,154.0L293.1,153.8L294.1,153.5L295.1,153.3L296.1,153.1L297.1,152.8L298.1,152.6L299.1,152.4L300.1,152.1L301.2,151.9L302.2,151.7L303.2,151.4L304.2,151.2L305.2,151.0L306.2,150.7L307.2,150.5L308.2,150.3L309.2,150.0L310.2,149.7L311.2,149.5L312.2,149.2L313.2,148.9L314.2,148.7L315.2,148.4L316.2,148.1L317.2,147.8L318.2,147.4L319.2,147.1L320.2,146.7L321.3,146.3L322.3,146.0L323.3,145.5L324.3,145.1L325.3,144.7L326.3,144.2L327.3,143.7L328.3,143.2L329.3,142.7L330.3,142.1L331.3,141.6L332.3,141.0L333.3,140.4L334.3,139.8L335.3,139.2L336.3,138.6L337.3,137.9L338.3,137.3L339.3,136.6L340.3,135.8L341.4,135.0L342.4,134.2L343.4,133.3L344.4,132.3L345.4,131.3L346.0,130.5L346.7,129.7L347.4,128.8L348.1,127.8L348.7,126.8L349.4,125.8L350.1,124.7L350.7,123.5L351.4,122.3L352.1,121.1L352.7,119.8L353.4,118.5L354.1,117.2L354.8,115.9L355.4,114.5L356.1,113.2L356.8,111.9L357.4,110.5L358.1,109.2L358.8,107.9L359.4,106.6L360.1,105.3L360.8,104.0L361.5,102.8L362.1,101.5L362.8,100.3L363.5,99.0L364.1,97.8L364.8,96.6L365.5,95.4L366.1,94.3L366.8,93.1L367.5,92.0L368.2,90.9L368.8,89.8L369.5,88.8L370.2,87.7L370.8,86.7L371.5,85.8L372.2,84.8L372.8,84.0L373.5,83.1L374.2,82.3L374.9,81.5L375.9,80.5L376.9,79.5L377.9,78.6L378.9,77.8L379.9,77.0L380.9,76.3L381.9,75.7L382.9,75.2L383.9,74.7L384.9,74.2L385.9,73.8L386.9,73.5L387.9,73.1L388.9,72.8L389.9,72.5L390.9,72.2L391.9,72.0L392.9,71.7L393.9,71.5L395.0,71.3L396.0,71.0L397.0,70.8L398.0,70.6L399.0,70.4L400.0,70.2L401.0,70.0L402.0,69.8L403.0,69.5L404.0,69.3L405.0,69.1L406.0,68.8L407.0,68.6L408.0,68.3L409.0,68.0L410.0,67.8L411.0,67.5L412.0,67.2L413.0,66.9L414.0,66.7L415.1,66.4L416.1,66.2L417.1,65.9L418.1,65.7L419.1,65.5L420.1,65.3L421.1,65.2L422.1,65.0L423.1,64.9L424.1,64.8L425.1,64.6L426.1,64.5L427.1,64.4L428.1,64.3L429.1,64.2L430.1,64.1L431.1,64.0L432.1,63.9L433.1,63.8L434.1,63.7L435.2,63.7L436.2,63.6L437.2,63.5L438.2,63.4L439.2,63.4L440.2,63.3L441.2,63.3L442.2,63.2L443.2,63.2" fill="none" stroke="#0000ff" stroke-width="0.7" stroke-opacity="0.7"/>
<path d="M244.9,159.4L245.9,159.4L246.9,159.4L247.9,159.3L248.9,159.3L249.9,159.3L250.9,159.2L251.9,159.2L252.9,159.1L253.9,159.1L254.9,159.0L255.9,159.0L256.9,158.9L257.9,158.9L258.9,158.8L259.9,158.7L261.0,158.7L262.0,158.6L263.0,158.5L264.0,158.5L265.0,158.4L266.0,158.3L267.0,158.3L268.0,158.2L269.0,158.1L270.0,158.0L271.0,157.9L272.0,157.8L273.0,157.6L274.0,157.5L275.0,157.4L276.0,157.2L277.0,157.1L278.0,156.9L279.0,156.7L280.0,156.5L281.1,156.4L282.1,156.2L283.1,156.0L284.1,155.8L285.1,155.6L286.1,155.3L287.1,155.1L288.1,154.9L289.1,154.7L290.1,154.5L291.1,154.2L292.1,154.0L293.1,153.8L294.1,153.5L295.1,153.3L296.1,153.1L297.1,152.8L298.1,152.6L299.1,152.4L300.1,152.1L301.2,151.9L302.2,151.7L303.2,151.4L304.2,151.2L305.2,151.0L306.2,150.7L307.2,150.5L308.2,150.3L309.2,150.0L310.2,149.7L311.2,149.5L312.2,149.2L313.2,148.9L314.2,148.7L315.2,148.4L316.2,148.1L316.9,147.9L317.6,147.6L318.2,147.4L318.9,147.2L319.6,147.0L320.2,146.7L320.9,146.5L321.6,146.2L322.3,146.0L322.9,145.7L323.6,145.4L324.3,145.1L324.9,144.8L325.6,144.5L326.3,144.2L326.9,143.9L327.6,143.5L328.3,143.2L329.0,142.8L329.6,142.5L330.3,142.1L331.0,141.8L331.6,141.4L332.3,141.0L333.0,140.6L333.6,140.2L334.3,139.8L335.0,139.4L335.7,139.0L336.3,138.6L337.0,138.2L337.7,137.7L338.3,137.3L339.0,136.8L339.7,136.3L340.3,135.8L341.0,135.3L341.7,134.8L342.4,134.2L343.0,133.6L343.7,133.0L344.4,132.3L345.0,131.6L345.7,130.9L346.4,130.1L347.0,129.2L347.7,128.3L348.4,127.4L349.1,126.3L349.7,125.2L350.4,124.1L351.1,122.9L351.7,121.7L352.1,121.1L352.4,120.4L352.7,119.8L353.1,119.1L353.4,118.5L353.7,117.8L354.1,117.2L354.4,116.5L354.8,115.9L355.1,115.2L355.4,114.5L355.8,113.9L356.1,113.2L356.4,112.5L356.8,111.9L357.1,111.2L357.4,110.5L357.8,109.9L358.1,109.2L358.4,108.6L358.8,107.9L359.1,107.3L359.4,106.6L359.8,106.0L360.1,105.3L360.4,104.7L360.8,104.0L361.1,103.4L361.5,102.8L361.8,102.1L362.1,101.5L362.5,100.9L362.8,100.3L363.1,99.6L363.8,98.4L364.5,97.2L365.1,96.0L365.8,94.9L366.5,93.7L367.1,92.6L367.8,91.5L368.5,90.4L369.2,89.3L369.8,88.2L370.5,87.2L371.2,86.3L371.8,85.3L372.5,84.4L373.2,83.5L373.8,82.7L374.5,81.9L375.2,81.2L375.9,80.5L376.5,79.8L377.2,79.2L377.9,78.6L378.5,78.0L379.2,77.5L379.9,77.0L380.5,76.6L381.2,76.1L381.9,75.7L382.6,75.4L383.2,75.0L383.9,74.7L384.6,74.4L385.2,74.1L385.9,73.8L386.6,73.6L387.2,73.3L387.9,73.1L388.6,72.9L389.3,72.7L390.3,72.4L391.3,72.1L392.3,71.9L393.3,71.6L394.3,71.4L395.3,71.2L396.3,71.0L397.3,70.8L398.3,70.5L399.3,70.3L400.3,70.1L401.3,69.9L402.3,69.7L403.3,69.5L404.3,69.2L405.3,69.0L406.3,68.8L407.3,68.5L408.4,68.2L409.4,68.0L410.4,67.7L411.4,67.4L412.4,67.1L413.4,66.8L414.4,66.6L415.4,66.3L416.4,66.1L417.4,65.9L418.4,65.7L419.4,65.5L420.4,65.3L421.4,65.1L422.4,65.0L423.4,64.8L424.4,64.7L425.4,64.6L426.4,64.5L427.4,64.4L428.5,64.3L429.5,64.2L430.5,64.1L431.5,64.0L432.5,63.9L433.5,63.8L434.5,63.7L435.5,63.6L436.5,63.6L437.5,63.5L438.5,63.4L439.5,63.4L440.5,63.3L441.5,63.3L442.5,63.2L443.2,63.2" fill="none" stroke="#0000ff" stroke-width="2.25" stroke-linecap="round" stroke-linejoin="round"/>
<path d="M244.9,142.5L245.9,142.5L246.9,142.4L247.9,142.4L248.9,142.3L249.9,142.3L250.9,142.2L251.9,142.1L252.9,142.1L253.9,142.0L254.9,141.9L255.9,141.9L256.9,141.8L257.9,141.7L258.9,141.6L259.9,141.6L261.0,141.5L262.0,141.4L263.0,141.3L264.0,141.2L265.0,141.1L266.0,141.1L267.0,141.0L268.0,140.9L269.0,140.8L270.0,140.7L271.0,140.6L272.0,140.5L273.0,140.4L274.0,140.3L275.0,140.2L276.0,140.1L277.0,140.1L278.0,140.0L279.0,139.9L280.0,139.7L281.1,139.6L282.1,139.5L283.1,139.4L284.1,139.3L285.1,139.1L286.1,139.0L287.1,138.8L288.1,138.7L289.1,138.5L290.1,138.3L291.1,138.1L292.1,137.9L293.1,137.6L294.1,137.3L295.1,137.0L296.1,136.6L297.1,136.1L298.1,135.6L299.1,135.1L300.1,134.4L301.2,133.8L302.2,133.1L303.2,132.3L304.2,131.4L305.2,130.5L306.2,129.4L307.2,128.3L307.9,127.5L308.5,126.7L309.2,125.8L309.9,124.9L310.5,124.0L311.2,123.0L311.9,122.0L312.5,120.9L313.2,119.8L313.9,118.7L314.6,117.4L315.2,116.2L315.9,114.8L316.6,113.4L317.2,111.9L317.9,110.3L318.6,108.7L319.2,107.1L319.9,105.4L320.6,103.7L321.3,102.1L321.9,100.5L322.6,99.0L323.3,97.6L323.9,96.3L324.6,95.2L325.3,94.1L325.9,93.2L326.6,92.4L327.6,91.4L328.6,90.7L329.6,90.1L330.6,89.7L331.6,89.5L332.6,89.3L333.6,89.1L334.7,88.9L335.7,88.8L336.7,88.7L337.7,88.6L338.7,88.5L339.7,88.3L340.7,88.2L341.7,88.1L342.7,88.0L343.7,87.9L344.7,87.8L345.7,87.6L346.7,87.5L347.7,87.4L348.7,87.3L349.7,87.2L350.7,87.1L351.7,87.0L352.7,86.9L353.7,86.7L354.8,86.6L355.8,86.5L356.8,86.4L357.8,86.3L358.8,86.2L359.8,86.1L360.8,86.0L361.8,85.9L362.8,85.9L363.8,85.8L364.8,85.7L365.8,85.6L366.8,85.5L367.8,85.4L368.8,85.3L369.8,85.2L370.8,85.1L371.8,85.1L372.8,85.0L373.8,84.9L374.9,84.8L375.9,84.7L376.9,84.7L377.9,84.6L378.9,84.5L379.9,84.4L380.9,84.4L381.9,84.3L382.9,84.2L383.9,84.1L384.9,84.1L385.9,84.0L386.9,83.9L387.9,83.9L388.9,83.8L389.9,83.7L390.9,83.7L391.9,83.6L392.9,83.5L393.9,83.5L395.0,83.4L396.0,83.4L397.0,83.3L398.0,83.3L399.0,83.2L400.0,83.1L401.0,83.1L402.0,83.0L403.0,83.0L404.0,82.9L405.0,82.9L406.0,82.8L407.0,82.8L408.0,82.7L409.0,82.7L410.0,82.6L411.0,82.6L412.0,82.5L413.0,82.5L414.0,82.5L415.1,82.4L416.1,82.4L417.1,82.3L418.1,82.3L419.1,82.2L420.1,82.2L421.1,82.2L422.1,82.1L423.1,82.1L424.1,82.0L425.1,82.0L426.1,81.9L427.1,81.9L428.1,81.9L429.1,81.8L430.1,81.8L431.1,81.7L432.1,81.7L433.1,81.6L434.1,81.6L435.2,81.6L436.2,81.5L437.2,81.5L438.2,81.4L439.2,81.4L440.2,81.4L441.2,81.3L442.2,81.3L443.2,81.2" fill="none" stroke="#007f00" stroke-width="0.7" stroke-opacity="0.7"/>
<path d="M244.9,142.5L245.9,142.5L246.9,142.4L247.9,142.4L248.9,142.3L249.9,142.3L250.9,142.2L251.9,142.1L252.9,142.1L253.9,142.0L254.9,141.9L255.9,141.9L256.9,141.8L257.9,141.7L258.9,141.6L259.9,141.6L261.0,141.5L262.0,141.4L263.0,141.3L264.0,141.2L265.0,141.1L266.0,141.1L267.0,141.0L268.0,140.9L269.0,140.8L270.0,140.7L271.0,140.6L272.0,140.5L273.0,140.4L274.0,140.3L275.0,140.2L276.0,140.1L277.0,140.1L278.0,140.0L279.0,139.9L280.0,139.7L281.1,139.6L282.1,139.5L283.1,139.4L284.1,139.3L285.1,139.1L286.1,139.0L287.1,138.8L288.1,138.7L289.1,138.5L290.1,138.3L291.1,138.1L292.1,137.9L293.1,137.6L294.1,137.3L294.8,137.1L295.5,136.8L296.1,136.6L296.8,136.3L297.5,136.0L298.1,135.6L298.8,135.2L299.5,134.9L300.1,134.4L300.8,134.0L301.5,133.5L302.2,133.1L302.8,132.5L303.5,132.0L304.2,131.4L304.8,130.8L305.5,130.1L306.2,129.4L306.8,128.7L307.5,127.9L308.2,127.1L308.9,126.3L309.5,125.4L310.2,124.5L310.9,123.5L311.5,122.5L312.2,121.5L312.9,120.4L313.5,119.2L314.2,118.1L314.6,117.4L314.9,116.8L315.2,116.2L315.6,115.5L315.9,114.8L316.2,114.1L316.6,113.4L316.9,112.6L317.2,111.9L317.6,111.1L317.9,110.3L318.2,109.5L318.6,108.7L318.9,107.9L319.2,107.1L319.6,106.2L319.9,105.4L320.2,104.5L320.6,103.7L320.9,102.9L321.3,102.1L321.6,101.3L321.9,100.5L322.3,99.7L322.6,99.0L322.9,98.3L323.3,97.6L323.6,97.0L323.9,96.3L324.6,95.2L325.3,94.1L325.9,93.2L326.6,92.4L327.3,91.7L328.0,91.2L328.6,90.7L329.3,90.3L330.0,90.0L330.6,89.7L331.6,89.5L332.6,89.3L333.6,89.1L334.7,88.9L335.7,88.8L336.7,88.7L337.7,88.6L338.7,88.5L339.7,88.3L340.7,88.2L341.7,88.1L342.7,88.0L343.7,87.9L344.7,87.8L345.7,87.6L346.7,87.5L347.7,87.4L348.7,87.3L349.7,87.2L350.7,87.1L351.7,87.0L352.7,86.9L353.7,86.7L354.8,86.6L355.8,86.5L356.8,86.4L357.8,86.3L358.8,86.2L359.8,86.1L360.8,86.0L361.8,85.9L362.8,85.9L363.8,85.8L364.8,85.7L365.8,85.6L366.8,85.5L367.8,85.4L368.8,85.3L369.8,85.2L370.8,85.1L371.8,85.1L372.8,85.0L373.8,84.9L374.9,84.8L375.9,84.7L376.9,84.7L377.9,84.6L378.9,84.5L379.9,84.4L380.9,84.4L381.9,84.3L382.9,84.2L383.9,84.1L384.9,84.1L385.9,84.0L386.9,83.9L387.9,83.9L388.9,83.8L389.9,83.7L390.9,83.7L391.9,83.6L392.9,83.5L393.9,83.5L395.0,83.4L396.0,83.4L397.0,83.3L398.0,83.3L399.0,83.2L400.0,83.1L401.0,83.1L402.0,83.0L403.0,83.0L404.0,82.9L405.0,82.9L406.0,82.8L407.0,82.8L408.0,82.7L409.0,82.7L410.0,82.6L411.0,82.6L412.0,82.5L413.0,82.5L414.0,82.5L415.1,82.4L416.1,82.4L417.1,82.3L418.1,82.3L419.1,82.2L420.1,82.2L421.1,82.2L422.1,82.1L423.1,82.1L424.1,82.0L425.1,82.0L426.1,81.9L427.1,81.9L428.1,81.9L429.1,81.8L430.1,81.8L431.1,81.7L432.1,81.7L433.1,81.6L434.1,81.6L435.2,81.6L436.2,81.5L437.2,81.5L438.2,81.4L439.2,81.4L440.2,81.4L441.2,81.3L442.2,81.3L443.2,81.2" fill="none" stroke="#007f00" stroke-width="2.25" stroke-linecap="round" stroke-linejoin="round"/>
<path d="M244.9,142.1L245.9,142.1L246.9,142.1L247.9,142.0L248.9,142.0L249.9,141.9L250.9,141.9L251.9,141.8L252.9,141.8L253.9,141.8L254.9,141.7L255.9,141.7L256.9,141.6L257.9,141.6L258.9,141.6L259.9,141.5L261.0,141.5L262.0,141.4L263.0,141.4L264.0,141.3L265.0,141.3L266.0,141.3L267.0,141.2L268.0,141.2L269.0,141.1L270.0,141.1L271.0,141.0L272.0,141.0L273.0,141.0L274.0,140.9L275.0,140.9L276.0,140.8L277.0,140.8L278.0,140.7L279.0,140.7L280.0,140.6L281.1,140.6L282.1,140.5L283.1,140.5L284.1,140.4L285.1,140.4L286.1,140.3L287.1,140.3L288.1,140.2L289.1,140.2L290.1,140.1L291.1,140.1L292.1,140.0L293.1,139.9L294.1,139.9L295.1,139.8L296.1,139.7L297.1,139.7L298.1,139.6L299.1,139.6L300.1,139.5L301.2,139.4L302.2,139.4L303.2,139.3L304.2,139.2L305.2,139.1L306.2,139.1L307.2,139.0L308.2,138.9L309.2,138.8L310.2,138.8L311.2,138.7L312.2,138.6L313.2,138.5L314.2,138.5L315.2,138.4L316.2,138.3L317.2,138.2L318.2,138.1L319.2,138.0L320.2,137.9L321.3,137.9L322.3,137.8L323.3,137.7L324.3,137.6L325.3,137.5L326.3,137.4L327.3,137.3L328.3,137.2L329.3,137.1L330.3,137.0L331.3,136.9L332.3,136.8L333.3,136.7L334.3,136.6L335.3,136.5L336.3,136.4L337.3,136.3L338.3,136.1L339.3,136.0L340.3,135.9L341.4,135.8L342.4,135.7L343.4,135.6L344.4,135.4L345.4,135.3L346.4,135.2L347.4,135.1L348.4,135.0L349.4,134.9L350.4,134.7L351.4,134.6L352.4,134.5L353.4,134.4L354.4,134.2L355.4,134.0L356.4,133.8L357.4,133.4L358.4,132.9L359.4,132.2L360.4,131.3L361.5,130.2L362.1,129.3L362.8,128.2L363.5,127.1L364.1,125.8L364.8,124.4L365.5,122.9L366.1,121.3L366.8,119.7L367.5,118.0L368.2,116.3L368.8,114.7L369.5,113.1L370.2,111.5L370.8,110.0L371.5,108.6L372.2,107.2L372.8,106.0L373.5,104.7L374.2,103.6L374.9,102.5L375.5,101.4L376.2,100.4L376.9,99.4L377.5,98.5L378.2,97.6L378.9,96.7L379.5,95.9L380.2,95.1L380.9,94.3L381.9,93.3L382.9,92.3L383.9,91.4L384.9,90.6L385.9,89.9L386.9,89.2L387.9,88.5L388.9,88.0L389.9,87.4L390.9,87.0L391.9,86.6L392.9,86.2L393.9,85.9L395.0,85.6L396.0,85.4L397.0,85.2L398.0,85.0L399.0,84.8L400.0,84.6L401.0,84.5L402.0,84.3L403.0,84.2L404.0,84.1L405.0,83.9L406.0,83.8L407.0,83.7L408.0,83.6L409.0,83.5L410.0,83.4L411.0,83.3L412.0,83.2L413.0,83.1L414.0,83.0L415.1,82.9L416.1,82.8L417.1,82.7L418.1,82.6L419.1,82.6L420.1,82.5L421.1,82.4L422.1,82.3L423.1,82.2L424.1,82.1L425.1,82.0L426.1,82.0L427.1,81.9L428.1,81.8L429.1,81.7L430.1,81.6L431.1,81.6L432.1,81.5L433.1,81.4L434.1,81.4L435.2,81.3L436.2,81.2L437.2,81.2L438.2,81.1L439.2,81.0L440.2,81.0L441.2,80.9L442.2,80.9L443.2,80.8" fill="none" stroke="#007f00" stroke-width="0.7" stroke-opacity="0.7"/>
<path d="M244.9,142.1L245.9,142.1L246.9,142.1L247.9,142.0L248.9,142.0L249.9,141.9L250.9,141.9L251.9,141.8L252.9,141.8L253.9,141.8L254.9,141.7L255.9,141.7L256.9,141.6L257.9,141.6L258.9,141.6L259.9,141.5L261.0,141.5L262.0,141.4L263.0,141.4L264.0,141.3L265.0,141.3L266.0,141.3L267.0,141.2L268.0,141.2L269.0,141.1L270.0,141.1L271.0,141.0L272.0,141.0L273.0,141.0L274.0,140.9L275.0,140.9L276.0,140.8L277.0,140.8L278.0,140.7L279.0,140.7L280.0,140.6L281.1,140.6L282.1,140.5L283.1,140.5L284.1,140.4L285.1,140.4L286.1,140.3L287.1,140.3L288.1,140.2L289.1,140.2L290.1,140.1L291.1,140.1L292.1,140.0L293.1,139.9L294.1,139.9L295.1,139.8L296.1,139.7L297.1,139.7L298.1,139.6L299.1,139.6L300.1,139.5L301.2,139.4L302.2,139.4L303.2,139.3L304.2,139.2L305.2,139.1L306.2,139.1L307.2,139.0L308.2,138.9L309.2,138.8L310.2,138.8L311.2,138.7L312.2,138.6L313.2,138.5L314.2,138.5L315.2,138.4L316.2,138.3L317.2,138.2L318.2,138.1L319.2,138.0L320.2,137.9L321.3,137.9L322.3,137.8L323.3,137.7L324.3,137.6L325.3,137.5L326.3,137.4L327.3,137.3L328.3,137.2L329.3,137.1L330.3,137.0L331.3,136.9L332.3,136.8L333.3,136.7L334.3,136.6L335.3,136.5L336.3,136.4L337.3,136.3L338.3,136.1L339.3,136.0L340.3,135.9L341.4,135.8L342.4,135.7L343.4,135.6L344.4,135.4L345.4,135.3L346.4,135.2L347.4,135.1L348.4,135.0L349.4,134.9L350.4,134.7L351.4,134.6L352.4,134.5L353.4,134.4L354.4,134.2L355.4,134.0L356.4,133.8L357.1,133.5L357.8,133.3L358.4,132.9L359.1,132.5L359.8,132.0L360.4,131.3L361.1,130.6L361.8,129.7L362.5,128.8L363.1,127.7L363.8,126.4L364.1,125.8L364.5,125.1L364.8,124.4L365.1,123.7L365.5,122.9L365.8,122.1L366.1,121.3L366.5,120.5L366.8,119.7L367.1,118.9L367.5,118.0L367.8,117.2L368.2,116.3L368.5,115.5L368.8,114.7L369.2,113.9L369.5,113.1L369.8,112.3L370.2,111.5L370.5,110.8L370.8,110.0L371.2,109.3L371.5,108.6L371.8,107.9L372.2,107.2L372.5,106.6L372.8,106.0L373.2,105.3L373.8,104.2L374.5,103.0L375.2,101.9L375.9,100.9L376.5,99.9L377.2,98.9L377.9,98.0L378.5,97.1L379.2,96.3L379.9,95.5L380.5,94.7L381.2,94.0L381.9,93.3L382.6,92.6L383.2,92.0L383.9,91.4L384.6,90.9L385.2,90.3L385.9,89.9L386.6,89.4L387.2,89.0L387.9,88.5L388.6,88.2L389.3,87.8L389.9,87.4L390.6,87.1L391.3,86.8L391.9,86.6L392.6,86.3L393.3,86.1L394.3,85.8L395.3,85.5L396.3,85.3L397.3,85.1L398.3,84.9L399.3,84.7L400.3,84.6L401.3,84.4L402.3,84.3L403.3,84.1L404.3,84.0L405.3,83.9L406.3,83.8L407.3,83.7L408.4,83.5L409.4,83.4L410.4,83.3L411.4,83.3L412.4,83.2L413.4,83.1L414.4,83.0L415.4,82.9L416.4,82.8L417.4,82.7L418.4,82.6L419.4,82.5L420.4,82.4L421.4,82.3L422.4,82.3L423.4,82.2L424.4,82.1L425.4,82.0L426.4,81.9L427.4,81.8L428.5,81.8L429.5,81.7L430.5,81.6L431.5,81.5L432.5,81.5L433.5,81.4L434.5,81.3L435.5,81.3L436.5,81.2L437.5,81.1L438.5,81.1L439.5,81.0L440.5,81.0L441.5,80.9L442.5,80.9L443.2,80.8" fill="none" stroke="#007f00" stroke-width="2.25" stroke-linecap="round" stroke-linejoin="round"/>
<path d="M244.9,136.7L245.9,136.7L246.9,136.6L247.9,136.6L248.9,136.5L249.9,136.4L250.9,136.3L251.9,136.3L252.9,136.2L253.9,136.0L254.9,135.9L255.9,135.7L256.9,135.4L257.9,135.2L258.9,134.9L259.9,134.5L261.0,134.2L262.0,133.8L263.0,133.3L264.0,132.9L265.0,132.4L266.0,131.9L267.0,131.3L268.0,130.7L269.0,130.0L270.0,129.2L271.0,128.4L272.0,127.6L273.0,126.7L274.0,125.8L275.0,124.9L276.0,124.0L277.0,123.1L278.0,122.2L279.0,121.4L280.0,120.5L281.1,119.6L282.1,118.8L283.1,117.9L284.1,117.0L285.1,116.1L286.1,115.3L287.1,114.4L288.1,113.5L289.1,112.5L290.1,111.6L291.1,110.6L292.1,109.6L293.1,108.5L294.1,107.5L295.1,106.5L296.1,105.5L297.1,104.6L298.1,103.8L299.1,103.1L300.1,102.4L301.2,101.9L302.2,101.4L303.2,100.9L304.2,100.5L305.2,100.1L306.2,99.8L307.2,99.4L308.2,99.1L309.2,98.8L310.2,98.6L311.2,98.3L312.2,98.1L313.2,97.8L314.2,97.6L315.2,97.4L316.2,97.2L317.2,97.0L318.2,96.8L319.2,96.6L320.2,96.4L321.3,96.2L322.3,96.1L323.3,95.9L324.3,95.7L325.3,95.6L326.3,95.5L327.3,95.3L328.3,95.2L329.3,95.0L330.3,94.9L331.3,94.8L332.3,94.6L333.3,94.5L334.3,94.3L335.3,94.2L336.3,94.0L337.3,93.8L338.3,93.7L339.3,93.5L340.3,93.3L341.4,93.2L342.4,93.0L343.4,92.8L344.4,92.6L345.4,92.5L346.4,92.3L347.4,92.2L348.4,92.0L349.4,91.9L350.4,91.7L351.4,91.6L352.4,91.5L353.4,91.4L354.4,91.3L355.4,91.2L356.4,91.1L357.4,91.0L358.4,90.9L359.4,90.8L360.4,90.7L361.5,90.6L362.5,90.5L363.5,90.4L364.5,90.3L365.5,90.2L366.5,90.1L367.5,90.0L368.5,89.8L369.5,89.7L370.5,89.6L371.5,89.4L372.5,89.3L373.5,89.1L374.5,88.9L375.5,88.8L376.5,88.6L377.5,88.5L378.5,88.3L379.5,88.1L380.5,88.0L381.6,87.8L382.6,87.7L383.6,87.5L384.6,87.4L385.6,87.3L386.6,87.1L387.6,87.0L388.6,86.9L389.6,86.9L390.6,86.8L391.6,86.7L392.6,86.7L393.6,86.6L394.6,86.6L395.6,86.6L396.6,86.5L397.6,86.5L398.6,86.5L399.6,86.5L400.6,86.5L401.7,86.5L402.7,86.5L403.7,86.4L404.7,86.4L405.7,86.4L406.7,86.4L407.7,86.4L408.7,86.4L409.7,86.4L410.7,86.4L411.7,86.4L412.7,86.3L413.7,86.3L414.7,86.3L415.7,86.3L416.7,86.3L417.7,86.3L418.7,86.3L419.7,86.3L420.7,86.3L421.8,86.3L422.8,86.3L423.8,86.3L424.8,86.2L425.8,86.2L426.8,86.2L427.8,86.2L428.8,86.2L429.8,86.2L430.8,86.2L431.8,86.2L432.8,86.2L433.8,86.2L434.8,86.2L435.8,86.2L436.8,86.2L437.8,86.2L438.8,86.2L439.8,86.2L440.8,86.2L441.9,86.2L442.9,86.2" fill="none" stroke="#7f00ff" stroke-width="0.7" stroke-opacity="0.7"/>
<path d="M244.9,136.7L245.9,136.7L246.9,136.6L247.9,136.6L248.9,136.5L249.9,136.4L250.9,136.3L251.9,136.3L252.9,136.2L253.9,136.0L254.9,135.9L255.9,135.7L256.9,135.4L257.9,135.2L258.9,134.9L259.6,134.6L260.3,134.4L261.0,134.2L261.6,133.9L262.3,133.6L263.0,133.3L263.6,133.0L264.3,132.7L265.0,132.4L265.6,132.1L266.3,131.7L267.0,131.3L267.7,130.9L268.3,130.4L269.0,130.0L269.7,129.5L270.3,129.0L271.0,128.4L271.7,127.9L272.3,127.3L273.0,126.7L273.7,126.1L274.4,125.5L275.0,124.9L275.7,124.3L276.4,123.7L277.0,123.1L277.7,122.5L278.4,121.9L279.0,121.4L279.7,120.8L280.4,120.2L281.1,119.6L281.7,119.1L282.4,118.5L283.1,117.9L283.7,117.3L284.4,116.7L285.1,116.1L285.7,115.6L286.4,115.0L287.1,114.4L287.8,113.8L288.4,113.1L289.1,112.5L289.8,111.9L290.4,111.2L291.1,110.6L291.8,109.9L292.4,109.2L293.1,108.5L293.8,107.9L294.5,107.2L295.1,106.5L295.8,105.9L296.5,105.2L297.1,104.6L297.8,104.1L298.5,103.6L299.1,103.1L299.8,102.6L300.5,102.2L301.2,101.9L301.8,101.5L302.5,101.2L303.2,100.9L303.8,100.6L304.5,100.4L305.2,100.1L305.8,99.9L306.5,99.7L307.2,99.4L307.9,99.2L308.9,98.9L309.9,98.7L310.9,98.4L311.9,98.1L312.9,97.9L313.9,97.7L314.9,97.4L315.9,97.2L316.9,97.0L317.9,96.8L318.9,96.6L319.9,96.4L320.9,96.3L321.9,96.1L322.9,95.9L323.9,95.8L324.9,95.6L325.9,95.5L326.9,95.4L328.0,95.2L329.0,95.1L330.0,94.9L331.0,94.8L332.0,94.7L333.0,94.5L334.0,94.4L335.0,94.2L336.0,94.1L337.0,93.9L338.0,93.7L339.0,93.6L340.0,93.4L341.0,93.2L342.0,93.0L343.0,92.9L344.0,92.7L345.0,92.5L346.0,92.4L347.0,92.2L348.1,92.1L349.1,91.9L350.1,91.8L351.1,91.7L352.1,91.5L353.1,91.4L354.1,91.3L355.1,91.2L356.1,91.1L357.1,91.0L358.1,90.9L359.1,90.8L360.1,90.7L361.1,90.6L362.1,90.5L363.1,90.4L364.1,90.3L365.1,90.2L366.1,90.1L367.1,90.0L368.2,89.9L369.2,89.7L370.2,89.6L371.2,89.5L372.2,89.3L373.2,89.2L374.2,89.0L375.2,88.8L376.2,88.7L377.2,88.5L378.2,88.3L379.2,88.2L380.2,88.0L381.2,87.9L382.2,87.7L383.2,87.6L384.2,87.4L385.2,87.3L386.2,87.2L387.2,87.1L388.3,87.0L389.3,86.9L390.3,86.8L391.3,86.7L392.3,86.7L393.3,86.6L394.3,86.6L395.3,86.6L396.3,86.6L397.3,86.5L398.3,86.5L399.3,86.5L400.3,86.5L401.3,86.5L402.3,86.5L403.3,86.4L404.3,86.4L405.3,86.4L406.3,86.4L407.3,86.4L408.4,86.4L409.4,86.4L410.4,86.4L411.4,86.4L412.4,86.3L413.4,86.3L414.4,86.3L415.4,86.3L416.4,86.3L417.4,86.3L418.4,86.3L419.4,86.3L420.4,86.3L421.4,86.3L422.4,86.3L423.4,86.3L424.4,86.2L425.4,86.2L426.4,86.2L427.4,86.2L428.5,86.2L429.5,86.2L430.5,86.2L431.5,86.2L432.5,86.2L433.5,86.2L434.5,86.2L435.5,86.2L436.5,86.2L437.5,86.2L438.5,86.2L439.5,86.2L440.5,86.2L441.5,86.2L442.5,86.2L443.2,86.2" fill="none" stroke="#7f00ff" stroke-width="2.25" stroke-linecap="round" stroke-linejoin="round"/>
<path d="M244.9,137.0L245.9,137.0L246.9,137.0L247.9,137.0L248.9,137.0L249.9,137.0L250.9,136.9L251.9,136.9L252.9,136.9L253.9,136.9L254.9,136.9L255.9,136.9L256.9,136.9L257.9,136.8L258.9,136.8L259.9,136.8L261.0,136.8L262.0,136.8L263.0,136.7L264.0,136.7L265.0,136.7L266.0,136.7L267.0,136.6L268.0,136.6L269.0,136.6L270.0,136.5L271.0,136.5L272.0,136.5L273.0,136.5L274.0,136.4L275.0,136.4L276.0,136.4L277.0,136.3L278.0,136.3L279.0,136.2L280.0,136.2L281.1,136.2L282.1,136.1L283.1,136.1L284.1,136.1L285.1,136.0L286.1,136.0L287.1,135.9L288.1,135.9L289.1,135.9L290.1,135.8L291.1,135.8L292.1,135.7L293.1,135.7L294.1,135.7L295.1,135.6L296.1,135.6L297.1,135.5L298.1,135.5L299.1,135.4L300.1,135.4L301.2,135.3L302.2,135.3L303.2,135.2L304.2,135.1L305.2,135.1L306.2,135.0L307.2,134.9L308.2,134.8L309.2,134.7L310.2,134.6L311.2,134.5L312.2,134.4L313.2,134.3L314.2,134.2L315.2,134.1L316.2,134.0L317.2,133.8L318.2,133.7L319.2,133.6L320.2,133.5L321.3,133.4L322.3,133.2L323.3,133.1L324.3,133.0L325.3,132.9L326.3,132.8L327.3,132.6L328.3,132.5L329.3,132.4L330.3,132.3L331.3,132.2L332.3,132.1L333.3,132.0L334.3,131.9L335.3,131.8L336.3,131.7L337.3,131.6L338.3,131.5L339.3,131.4L340.3,131.3L341.4,131.2L342.4,131.1L343.4,131.1L344.4,131.0L345.4,130.9L346.4,130.8L347.4,130.7L348.4,130.6L349.4,130.5L350.4,130.4L351.4,130.3L352.4,130.2L353.4,130.1L354.4,129.9L355.4,129.8L356.4,129.6L357.4,129.5L358.4,129.3L359.4,129.1L360.4,128.9L361.5,128.7L362.5,128.5L363.5,128.3L364.5,128.1L365.5,127.9L366.5,127.7L367.5,127.5L368.5,127.3L369.5,127.1L370.5,127.0L371.5,126.8L372.5,126.6L373.5,126.4L374.5,126.2L375.5,126.0L376.5,125.8L377.5,125.6L378.5,125.3L379.5,125.1L380.5,124.8L381.6,124.5L382.6,124.1L383.6,123.7L384.6,123.3L385.6,122.8L386.6,122.2L387.6,121.5L388.6,120.7L389.6,119.8L390.6,118.9L391.6,118.0L392.6,117.0L393.6,116.0L394.6,115.1L395.6,114.1L396.6,113.2L397.6,112.3L398.6,111.4L399.6,110.5L400.6,109.6L401.7,108.7L402.7,107.8L403.7,106.9L404.7,106.0L405.7,105.1L406.7,104.1L407.7,103.2L408.7,102.2L409.7,101.3L410.7,100.4L411.7,99.5L412.7,98.7L413.7,97.9L414.7,97.1L415.7,96.4L416.7,95.7L417.7,95.0L418.7,94.4L419.7,93.8L420.7,93.2L421.8,92.6L422.8,92.0L423.8,91.5L424.8,90.9L425.8,90.4L426.8,89.9L427.8,89.4L428.8,89.0L429.8,88.6L430.8,88.2L431.8,87.9L432.8,87.6L433.8,87.4L434.8,87.2L435.8,87.0L436.8,86.9L437.8,86.8L438.8,86.7L439.8,86.6L440.8,86.5L441.9,86.4L442.9,86.4" fill="none" stroke="#7f00ff" stroke-width="0.7" stroke-opacity="0.7"/>
<path d="M244.9,137.0L245.9,137.0L246.9,137.0L247.9,137.0L248.9,137.0L249.9,137.0L250.9,136.9L251.9,136.9L252.9,136.9L253.9,136.9L254.9,136.9L255.9,136.9L256.9,136.9L257.9,136.8L258.9,136.8L259.9,136.8L261.0,136.8L262.0,136.8L263.0,136.7L264.0,136.7L265.0,136.7L266.0,136.7L267.0,136.6L268.0,136.6L269.0,136.6L270.0,136.5L271.0,136.5L272.0,136.5L273.0,136.5L274.0,136.4L275.0,136.4L276.0,136.4L277.0,136.3L278.0,136.3L279.0,136.2L280.0,136.2L281.1,136.2L282.1,136.1L283.1,136.1L284.1,136.1L285.1,136.0L286.1,136.0L287.1,135.9L288.1,135.9L289.1,135.9L290.1,135.8L291.1,135.8L292.1,135.7L293.1,135.7L294.1,135.7L295.1,135.6L296.1,135.6L297.1,135.5L298.1,135.5L299.1,135.4L300.1,135.4L301.2,135.3L302.2,135.3L303.2,135.2L304.2,135.1L305.2,135.1L306.2,135.0L307.2,134.9L308.2,134.8L309.2,134.7L310.2,134.6L311.2,134.5L312.2,134.4L313.2,134.3L314.2,134.2L315.2,134.1L316.2,134.0L317.2,133.8L318.2,133.7L319.2,133.6L320.2,133.5L321.3,133.4L322.3,133.2L323.3,133.1L324.3,133.0L325.3,132.9L326.3,132.8L327.3,132.6L328.3,132.5L329.3,132.4L330.3,132.3L331.3,132.2L332.3,132.1L333.3,132.0L334.3,131.9L335.3,131.8L336.3,131.7L337.3,131.6L338.3,131.5L339.3,131.4L340.3,131.3L341.4,131.2L342.4,131.1L343.4,131.1L344.4,131.0L345.4,130.9L346.4,130.8L347.4,130.7L348.4,130.6L349.4,130.5L350.4,130.4L351.4,130.3L352.4,130.2L353.4,130.1L354.4,129.9L355.4,129.8L356.4,129.6L357.4,129.5L358.4,129.3L359.4,129.1L360.4,128.9L361.5,128.7L362.5,128.5L363.5,128.3L364.5,128.1L365.5,127.9L366.5,127.7L367.5,127.5L368.5,127.3L369.5,127.1L370.5,127.0L371.5,126.8L372.5,126.6L373.5,126.4L374.5,126.2L375.5,126.0L376.5,125.8L377.5,125.6L378.5,125.3L379.5,125.1L380.5,124.8L381.2,124.6L381.9,124.4L382.6,124.1L383.2,123.9L383.9,123.6L384.6,123.3L385.2,123.0L385.9,122.6L386.6,122.2L387.2,121.7L387.9,121.2L388.6,120.7L389.3,120.1L389.9,119.5L390.6,118.9L391.3,118.3L391.9,117.6L392.6,117.0L393.3,116.4L393.9,115.7L394.6,115.1L395.3,114.5L396.0,113.8L396.6,113.2L397.3,112.6L398.0,112.0L398.6,111.4L399.3,110.8L400.0,110.2L400.6,109.6L401.3,109.0L402.0,108.4L402.7,107.8L403.3,107.2L404.0,106.6L404.7,106.0L405.3,105.4L406.0,104.7L406.7,104.1L407.3,103.5L408.0,102.8L408.7,102.2L409.4,101.6L410.0,101.0L410.7,100.4L411.4,99.8L412.0,99.2L412.7,98.7L413.4,98.2L414.0,97.6L414.7,97.1L415.4,96.6L416.1,96.2L416.7,95.7L417.4,95.2L418.1,94.8L418.7,94.4L419.4,94.0L420.1,93.6L420.7,93.2L421.4,92.8L422.1,92.4L422.8,92.0L423.4,91.6L424.1,91.3L424.8,90.9L425.4,90.6L426.1,90.2L426.8,89.9L427.4,89.6L428.1,89.3L428.8,89.0L429.5,88.7L430.1,88.4L430.8,88.2L431.5,88.0L432.5,87.7L433.5,87.5L434.5,87.3L435.5,87.1L436.5,87.0L437.5,86.8L438.5,86.7L439.5,86.6L440.5,86.5L441.5,86.5L442.5,86.4L443.2,86.3" fill="none" stroke="#7f00ff" stroke-width="2.25" stroke-linecap="round" stroke-linejoin="round"/>
<path d="M244.9,144.2L245.9,144.2L246.9,144.2L247.9,144.1L248.9,144.1L249.9,144.1L250.9,144.1L251.9,144.1L252.9,144.1L253.9,144.1L254.9,144.1L255.9,144.1L256.9,144.1L257.9,144.1L258.9,144.1L259.9,144.1L261.0,144.0L262.0,144.0L263.0,144.0L264.0,144.0L265.0,144.0L266.0,144.0L267.0,144.0L268.0,143.9L269.0,143.9L270.0,143.9L271.0,143.9L272.0,143.9L273.0,143.9L274.0,143.9L275.0,143.8L276.0,143.8L277.0,143.8L278.0,143.8L279.0,143.8L280.0,143.8L281.1,143.7L282.1,143.7L283.1,143.7L284.1,143.7L285.1,143.7L286.1,143.6L287.1,143.6L288.1,143.6L289.1,143.6L290.1,143.6L291.1,143.5L292.1,143.5L293.1,143.5L294.1,143.5L295.1,143.4L296.1,143.4L297.1,143.4L298.1,143.3L299.1,143.3L300.1,143.3L301.2,143.2L302.2,143.2L303.2,143.1L304.2,143.1L305.2,143.1L306.2,143.0L307.2,143.0L308.2,142.9L309.2,142.8L310.2,142.8L311.2,142.7L312.2,142.7L313.2,142.6L314.2,142.5L315.2,142.5L316.2,142.4L317.2,142.3L318.2,142.2L319.2,142.1L320.2,142.0L321.3,141.9L322.3,141.7L323.3,141.3L323.9,140.5L324.6,138.2L324.9,135.3L325.3,131.0L325.6,125.2L325.9,118.8L326.3,112.6L326.6,107.3L326.9,102.8L327.3,98.8L327.6,94.9L328.0,91.3L328.3,88.0L328.6,85.5L329.0,84.0L329.6,82.7L330.6,82.0L331.6,81.7L332.6,81.6L333.6,81.5L334.7,81.4L335.7,81.4L336.7,81.3L337.7,81.3L338.7,81.2L339.7,81.2L340.7,81.2L341.7,81.1L342.7,81.1L343.7,81.1L344.7,81.0L345.7,81.0L346.7,81.0L347.7,80.9L348.7,80.9L349.7,80.9L350.7,80.8L351.7,80.8L352.7,80.8L353.7,80.8L354.8,80.7L355.8,80.7L356.8,80.7L357.8,80.6L358.8,80.6L359.8,80.6L360.8,80.6L361.8,80.5L362.8,80.5L363.8,80.5L364.8,80.5L365.8,80.4L366.8,80.4L367.8,80.4L368.8,80.4L369.8,80.4L370.8,80.3L371.8,80.3L372.8,80.3L373.8,80.3L374.9,80.3L375.9,80.3L376.9,80.3L377.9,80.2L378.9,80.2L379.9,80.2L380.9,80.2L381.9,80.2L382.9,80.2L383.9,80.2L384.9,80.2L385.9,80.2L386.9,80.2L387.9,80.1L388.9,80.1L389.9,80.1L390.9,80.1L391.9,80.1L392.9,80.1L393.9,80.1L395.0,80.1L396.0,80.1L397.0,80.1L398.0,80.1L399.0,80.1L400.0,80.0L401.0,80.0L402.0,80.0L403.0,80.0L404.0,80.0L405.0,80.0L406.0,80.0L407.0,80.0L408.0,80.0L409.0,80.0L410.0,80.0L411.0,80.0L412.0,80.0L413.0,80.0L414.0,79.9L415.1,79.9L416.1,79.9L417.1,79.9L418.1,79.9L419.1,79.9L420.1,79.9L421.1,79.9L422.1,79.9L423.1,79.9L424.1,79.9L425.1,79.9L426.1,79.9L427.1,79.9L428.1,79.9L429.1,79.9L430.1,79.9L431.1,79.9L432.1,79.9L433.1,79.9L434.1,79.9L435.2,79.9L436.2,79.9L437.2,79.9L438.2,79.9L439.2,79.9L440.2,79.9L441.2,79.8L442.2,79.8L443.2,79.8" fill="none" stroke="#7f7f00" stroke-width="0.7" stroke-opacity="0.7"/>
<path d="M244.9,144.2L245.9,144.2L246.9,144.2L247.9,144.1L248.9,144.1L249.9,144.1L250.9,144.1L251.9,144.1L252.9,144.1L253.9,144.1L254.9,144.1L255.9,144.1L256.9,144.1L257.9,144.1L258.9,144.1L259.9,144.1L261.0,144.0L262.0,144.0L263.0,144.0L264.0,144.0L265.0,144.0L266.0,144.0L267.0,144.0L268.0,143.9L269.0,143.9L270.0,143.9L271.0,143.9L272.0,143.9L273.0,143.9L274.0,143.9L275.0,143.8L276.0,143.8L277.0,143.8L278.0,143.8L279.0,143.8L280.0,143.8L281.1,143.7L282.1,143.7L283.1,143.7L284.1,143.7L285.1,143.7L286.1,143.6L287.1,143.6L288.1,143.6L289.1,143.6L290.1,143.6L291.1,143.5L292.1,143.5L293.1,143.5L294.1,143.5L295.1,143.4L296.1,143.4L297.1,143.4L298.1,143.3L299.1,143.3L300.1,143.3L301.2,143.2L302.2,143.2L303.2,143.1L304.2,143.1L305.2,143.1L306.2,143.0L307.2,143.0L308.2,142.9L309.2,142.8L310.2,142.8L311.2,142.7L312.2,142.7L313.2,142.6L314.2,142.5L315.2,142.5L316.2,142.4L317.2,142.3L318.2,142.2L319.2,142.1L320.2,142.0L321.3,141.9L322.3,141.7L322.9,141.5L323.6,141.0L324.3,139.7L324.6,138.2L324.8,136.8L324.9,135.3M327.6,94.9L327.8,93.1L328.0,91.3L328.1,89.7L328.3,88.0M328.6,85.5L329.0,84.0L329.3,83.2L330.0,82.4L330.6,82.0L331.6,81.7L332.6,81.6L333.6,81.5L334.7,81.4L335.7,81.4L336.7,81.3L337.7,81.3L338.7,81.2L339.7,81.2L340.7,81.2L341.7,81.1L342.7,81.1L343.7,81.1L344.7,81.0L345.7,81.0L346.7,81.0L347.7,80.9L348.7,80.9L349.7,80.9L350.7,80.8L351.7,80.8L352.7,80.8L353.7,80.8L354.8,80.7L355.8,80.7L356.8,80.7L357.8,80.6L358.8,80.6L359.8,80.6L360.8,80.6L361.8,80.5L362.8,80.5L363.8,80.5L364.8,80.5L365.8,80.4L366.8,80.4L367.8,80.4L368.8,80.4L369.8,80.4L370.8,80.3L371.8,80.3L372.8,80.3L373.8,80.3L374.9,80.3L375.9,80.3L376.9,80.3L377.9,80.2L378.9,80.2L379.9,80.2L380.9,80.2L381.9,80.2L382.9,80.2L383.9,80.2L384.9,80.2L385.9,80.2L386.9,80.2L387.9,80.1L388.9,80.1L389.9,80.1L390.9,80.1L391.9,80.1L392.9,80.1L393.9,80.1L395.0,80.1L396.0,80.1L397.0,80.1L398.0,80.1L399.0,80.1L400.0,80.0L401.0,80.0L402.0,80.0L403.0,80.0L404.0,80.0L405.0,80.0L406.0,80.0L407.0,80.0L408.0,80.0L409.0,80.0L410.0,80.0L411.0,80.0L412.0,80.0L413.0,80.0L414.0,79.9L415.1,79.9L416.1,79.9L417.1,79.9L418.1,79.9L419.1,79.9L420.1,79.9L421.1,79.9L422.1,79.9L423.1,79.9L424.1,79.9L425.1,79.9L426.1,79.9L427.1,79.9L428.1,79.9L429.1,79.9L430.1,79.9L431.1,79.9L432.1,79.9L433.1,79.9L434.1,79.9L435.2,79.9L436.2,79.9L437.2,79.9L438.2,79.9L439.2,79.9L440.2,79.9L441.2,79.8L442.2,79.8L443.2,79.8" fill="none" stroke="#7f7f00" stroke-width="2.25" stroke-linecap="round" stroke-linejoin="round"/>
<path d="M325.1,133.2h0M325.3,131.0h0M325.4,129.0h0M325.5,127.1h0M325.6,125.2h0M325.7,123.1h0M325.8,120.9h0M325.9,118.8h0M326.1,116.7h0M326.2,114.7h0M326.3,112.6h0M326.4,110.0h0M326.6,107.3h0M326.8,105.1h0M326.9,102.8h0M327.1,100.8h0M327.3,98.8h0M327.5,96.8h0" fill="none" stroke="#7f7f00" stroke-width="1.9" stroke-linecap="round"/>
<path d="M244.9,144.2L245.9,144.2L246.9,144.2L247.9,144.2L248.9,144.2L249.9,144.2L250.9,144.1L251.9,144.1L252.9,144.1L253.9,144.1L254.9,144.1L255.9,144.1L256.9,144.1L257.9,144.1L258.9,144.1L259.9,144.1L261.0,144.1L262.0,144.1L263.0,144.1L264.0,144.1L265.0,144.1L266.0,144.1L267.0,144.1L268.0,144.0L269.0,144.0L270.0,144.0L271.0,144.0L272.0,144.0L273.0,144.0L274.0,144.0L275.0,144.0L276.0,144.0L277.0,144.0L278.0,144.0L279.0,143.9L280.0,143.9L281.1,143.9L282.1,143.9L283.1,143.9L284.1,143.9L285.1,143.9L286.1,143.9L287.1,143.9L288.1,143.8L289.1,143.8L290.1,143.8L291.1,143.8L292.1,143.8L293.1,143.8L294.1,143.8L295.1,143.8L296.1,143.7L297.1,143.7L298.1,143.7L299.1,143.7L300.1,143.7L301.2,143.7L302.2,143.7L303.2,143.6L304.2,143.6L305.2,143.6L306.2,143.6L307.2,143.6L308.2,143.6L309.2,143.6L310.2,143.6L311.2,143.5L312.2,143.5L313.2,143.5L314.2,143.5L315.2,143.5L316.2,143.5L317.2,143.5L318.2,143.4L319.2,143.4L320.2,143.4L321.3,143.4L322.3,143.4L323.3,143.3L324.3,143.3L325.3,143.3L326.3,143.3L327.3,143.3L328.3,143.2L329.3,143.2L330.3,143.2L331.3,143.2L332.3,143.1L333.3,143.1L334.3,143.1L335.3,143.0L336.3,143.0L337.3,143.0L338.3,142.9L339.3,142.9L340.3,142.9L341.4,142.8L342.4,142.8L343.4,142.8L344.4,142.7L345.4,142.7L346.4,142.6L347.4,142.5L348.4,142.5L349.4,142.4L350.4,142.3L351.4,142.2L352.4,142.1L353.4,142.0L354.4,141.8L355.4,141.7L356.4,141.5L357.4,141.0L358.1,140.2L358.8,137.8L359.1,135.4L359.4,132.1L359.8,128.3L360.1,124.4L360.4,120.4L360.8,116.0L361.1,111.1L361.5,105.9L361.8,100.8L362.1,96.4L362.5,93.3L362.8,91.1L363.1,89.6L363.5,88.5L364.1,87.1L364.8,86.1L365.8,85.2L366.8,84.5L367.8,84.0L368.8,83.6L369.8,83.3L370.8,83.1L371.8,82.9L372.8,82.7L373.8,82.6L374.9,82.5L375.9,82.4L376.9,82.3L377.9,82.2L378.9,82.1L379.9,82.0L380.9,81.9L381.9,81.9L382.9,81.8L383.9,81.7L384.9,81.6L385.9,81.5L386.9,81.4L387.9,81.3L388.9,81.1L389.9,81.0L390.9,80.9L391.9,80.8L392.9,80.7L393.9,80.6L395.0,80.6L396.0,80.5L397.0,80.5L398.0,80.4L399.0,80.4L400.0,80.4L401.0,80.3L402.0,80.3L403.0,80.3L404.0,80.3L405.0,80.2L406.0,80.2L407.0,80.2L408.0,80.2L409.0,80.1L410.0,80.1L411.0,80.1L412.0,80.1L413.0,80.0L414.0,80.0L415.1,80.0L416.1,80.0L417.1,79.9L418.1,79.9L419.1,79.9L420.1,79.9L421.1,79.9L422.1,79.9L423.1,79.8L424.1,79.8L425.1,79.8L426.1,79.8L427.1,79.8L428.1,79.8L429.1,79.8L430.1,79.7L431.1,79.7L432.1,79.7L433.1,79.7L434.1,79.7L435.2,79.7L436.2,79.7L437.2,79.7L438.2,79.7L439.2,79.7L440.2,79.7L441.2,79.7L442.2,79.7L443.2,79.6" fill="none" stroke="#7f7f00" stroke-width="0.7" stroke-opacity="0.7"/>
<path d="M244.9,144.2L245.9,144.2L246.9,144.2L247.9,144.2L248.9,144.2L249.9,144.2L250.9,144.1L251.9,144.1L252.9,144.1L253.9,144.1L254.9,144.1L255.9,144.1L256.9,144.1L257.9,144.1L258.9,144.1L259.9,144.1L261.0,144.1L262.0,144.1L263.0,144.1L264.0,144.1L265.0,144.1L266.0,144.1L267.0,144.1L268.0,144.0L269.0,144.0L270.0,144.0L271.0,144.0L272.0,144.0L273.0,144.0L274.0,144.0L275.0,144.0L276.0,144.0L277.0,144.0L278.0,144.0L279.0,143.9L280.0,143.9L281.1,143.9L282.1,143.9L283.1,143.9L284.1,143.9L285.1,143.9L286.1,143.9L287.1,143.9L288.1,143.8L289.1,143.8L290.1,143.8L291.1,143.8L292.1,143.8L293.1,143.8L294.1,143.8L295.1,143.8L296.1,143.7L297.1,143.7L298.1,143.7L299.1,143.7L300.1,143.7L301.2,143.7L302.2,143.7L303.2,143.6L304.2,143.6L305.2,143.6L306.2,143.6L307.2,143.6L308.2,143.6L309.2,143.6L310.2,143.6L311.2,143.5L312.2,143.5L313.2,143.5L314.2,143.5L315.2,143.5L316.2,143.5L317.2,143.5L318.2,143.4L319.2,143.4L320.2,143.4L321.3,143.4L322.3,143.4L323.3,143.3L324.3,143.3L325.3,143.3L326.3,143.3L327.3,143.3L328.3,143.2L329.3,143.2L330.3,143.2L331.3,143.2L332.3,143.1L333.3,143.1L334.3,143.1L335.3,143.0L336.3,143.0L337.3,143.0L338.3,142.9L339.3,142.9L340.3,142.9L341.4,142.8L342.4,142.8L343.4,142.8L344.4,142.7L345.4,142.7L346.4,142.6L347.4,142.5L348.4,142.5L349.4,142.4L350.4,142.3L351.4,142.2L352.4,142.1L353.4,142.0L354.4,141.8L355.4,141.7L356.4,141.5L357.1,141.3L357.8,140.7L358.4,139.4L358.8,137.8M359.1,135.4L359.3,133.7L359.4,132.1L359.6,130.2L359.8,128.3M362.1,96.4L362.3,94.9L362.5,93.3M362.8,91.1L363.1,89.6L363.5,88.5L363.8,87.8L364.1,87.1L364.8,86.1L365.5,85.4L366.1,84.9L366.8,84.5L367.5,84.1L368.2,83.8L368.8,83.6L369.5,83.4L370.5,83.1L371.5,82.9L372.5,82.8L373.5,82.6L374.5,82.5L375.5,82.4L376.5,82.3L377.5,82.2L378.5,82.1L379.5,82.1L380.5,82.0L381.6,81.9L382.6,81.8L383.6,81.7L384.6,81.6L385.6,81.5L386.6,81.4L387.6,81.3L388.6,81.2L389.6,81.1L390.6,81.0L391.6,80.9L392.6,80.8L393.6,80.7L394.6,80.6L395.6,80.5L396.6,80.5L397.6,80.4L398.6,80.4L399.6,80.4L400.6,80.4L401.7,80.3L402.7,80.3L403.7,80.3L404.7,80.2L405.7,80.2L406.7,80.2L407.7,80.2L408.7,80.1L409.7,80.1L410.7,80.1L411.7,80.1L412.7,80.0L413.7,80.0L414.7,80.0L415.7,80.0L416.7,80.0L417.7,79.9L418.7,79.9L419.7,79.9L420.7,79.9L421.8,79.9L422.8,79.8L423.8,79.8L424.8,79.8L425.8,79.8L426.8,79.8L427.8,79.8L428.8,79.8L429.8,79.7L430.8,79.7L431.8,79.7L432.8,79.7L433.8,79.7L434.8,79.7L435.8,79.7L436.8,79.7L437.8,79.7L438.8,79.7L439.8,79.7L440.8,79.7L441.9,79.7L442.9,79.6L443.2,79.6" fill="none" stroke="#7f7f00" stroke-width="2.25" stroke-linecap="round" stroke-linejoin="round"/>
<path d="M359.9,126.4h0M360.1,124.4h0M360.3,122.4h0M360.4,120.4h0M360.6,118.2h0M360.8,116.0h0M361.0,113.6h0M361.1,111.1h0M361.3,108.5h0M361.5,105.9h0M361.6,103.3h0M361.8,100.8h0M362.0,98.6h0" fill="none" stroke="#7f7f00" stroke-width="1.9" stroke-linecap="round"/>
<path d="M244.9,176.9L245.9,176.9L246.9,176.9L247.9,176.9L248.9,176.8L249.9,176.8L250.9,176.8L251.9,176.7L252.9,176.7L253.9,176.7L254.9,176.7L255.9,176.6L256.9,176.6L257.9,176.6L258.9,176.5L259.9,176.5L261.0,176.4L262.0,176.4L263.0,176.4L264.0,176.3L265.0,176.3L266.0,176.3L267.0,176.2L268.0,176.2L269.0,176.1L270.0,176.1L271.0,176.1L272.0,176.0L273.0,176.0L274.0,175.9L275.0,175.9L276.0,175.8L277.0,175.8L278.0,175.7L279.0,175.7L280.0,175.7L281.1,175.6L282.1,175.6L283.1,175.5L284.1,175.5L285.1,175.4L286.1,175.4L287.1,175.3L288.1,175.3L289.1,175.2L290.1,175.2L291.1,175.1L292.1,175.1L293.1,175.0L294.1,175.0L295.1,174.9L296.1,174.9L297.1,174.8L298.1,174.8L299.1,174.8L300.1,174.7L301.2,174.7L302.2,174.7L303.2,174.6L304.2,174.6L305.2,174.6L306.2,174.5L307.2,174.5L308.2,174.5L309.2,174.4L310.2,174.4L311.2,174.3L312.2,174.2L313.2,174.2L314.2,174.1L315.2,174.0L316.2,173.9L317.2,173.8L318.2,173.7L319.2,173.6L320.2,173.5L321.3,173.3L322.3,173.2L323.3,173.0L324.3,172.4L324.9,171.6L325.6,170.4L326.3,168.8L326.6,167.7L326.9,166.4L327.3,164.6L327.6,162.5L328.0,160.1L328.3,157.4L328.6,154.5L329.0,151.6L329.3,148.7L329.6,145.8L330.0,143.2L330.3,140.7L330.6,138.4L331.0,136.2L331.3,134.1L331.6,131.9L332.0,129.7L332.3,127.3L332.6,124.8L333.0,121.9L333.3,118.6L333.6,114.6L334.0,109.5L334.3,103.0L334.7,95.1L335.0,86.9L335.3,79.3L335.7,73.3L336.0,68.9L336.3,65.7L336.7,63.4L337.0,61.4L337.3,59.8L337.7,58.5L338.0,57.3L338.3,56.3L339.0,55.0L339.7,54.2L340.7,53.6L341.7,53.4L342.7,53.2L343.7,53.1L344.7,53.0L345.7,52.8L346.7,52.7L347.7,52.6L348.7,52.5L349.7,52.3L350.7,52.2L351.7,52.1L352.7,52.0L353.7,51.9L354.8,51.7L355.8,51.6L356.8,51.5L357.8,51.4L358.8,51.3L359.8,51.1L360.8,51.0L361.8,50.9L362.8,50.8L363.8,50.6L364.8,50.5L365.8,50.4L366.8,50.2L367.8,50.1L368.8,50.0L369.8,49.8L370.8,49.7L371.8,49.5L372.8,49.4L373.8,49.3L374.9,49.1L375.9,49.0L376.9,48.9L377.9,48.7L378.9,48.6L379.9,48.5L380.9,48.4L381.9,48.3L382.9,48.2L383.9,48.1L384.9,48.0L385.9,48.0L386.9,47.9L387.9,47.8L388.9,47.8L389.9,47.7L390.9,47.7L391.9,47.7L392.9,47.6L393.9,47.6L395.0,47.5L396.0,47.5L397.0,47.5L398.0,47.4L399.0,47.4L400.0,47.3L401.0,47.3L402.0,47.3L403.0,47.2L404.0,47.2L405.0,47.2L406.0,47.1L407.0,47.1L408.0,47.1L409.0,47.0L410.0,47.0L411.0,47.0L412.0,46.9L413.0,46.9L414.0,46.9L415.1,46.8L416.1,46.8L417.1,46.8L418.1,46.8L419.1,46.7L420.1,46.7L421.1,46.7L422.1,46.7L423.1,46.6L424.1,46.6L425.1,46.6L426.1,46.6L427.1,46.6L428.1,46.5L429.1,46.5L430.1,46.5L431.1,46.5L432.1,46.5L433.1,46.5L434.1,46.4L435.2,46.4L436.2,46.4L437.2,46.4L438.2,46.4L439.2,46.4L440.2,46.4L441.2,46.4L442.2,46.4L443.2,46.4" fill="none" stroke="#00cccc" stroke-width="0.7" stroke-opacity="0.7"/>
<path d="M244.9,176.9L245.9,176.9L246.9,176.9L247.9,176.9L248.9,176.8L249.9,176.8L250.9,176.8L251.9,176.7L252.9,176.7L253.9,176.7L254.9,176.7L255.9,176.6L256.9,176.6L257.9,176.6L258.9,176.5L259.9,176.5L261.0,176.4L262.0,176.4L263.0,176.4L264.0,176.3L265.0,176.3L266.0,176.3L267.0,176.2L268.0,176.2L269.0,176.1L270.0,176.1L271.0,176.1L272.0,176.0L273.0,176.0L274.0,175.9L275.0,175.9L276.0,175.8L277.0,175.8L278.0,175.7L279.0,175.7L280.0,175.7L281.1,175.6L282.1,175.6L283.1,175.5L284.1,175.5L285.1,175.4L286.1,175.4L287.1,175.3L288.1,175.3L289.1,175.2L290.1,175.2L291.1,175.1L292.1,175.1L293.1,175.0L294.1,175.0L295.1,174.9L296.1,174.9L297.1,174.8L298.1,174.8L299.1,174.8L300.1,174.7L301.2,174.7L302.2,174.7L303.2,174.6L304.2,174.6L305.2,174.6L306.2,174.5L307.2,174.5L308.2,174.5L309.2,174.4L310.2,174.4L311.2,174.3L312.2,174.2L313.2,174.2L314.2,174.1L315.2,174.0L316.2,173.9L317.2,173.8L318.2,173.7L319.2,173.6L320.2,173.5L321.3,173.3L322.3,173.2L323.3,173.0L323.9,172.7L324.6,172.1L325.3,171.0L325.6,170.4L325.9,169.6L326.3,168.8L326.6,167.7L326.9,166.4L327.3,164.6M328.0,160.1L328.1,158.8L328.3,157.4L328.5,156.0L328.6,154.5L328.8,153.1L329.0,151.6L329.1,150.1L329.3,148.7L329.5,147.3L329.6,145.8M332.6,124.8L332.8,123.3L333.0,121.9L333.1,120.3L333.3,118.6M336.0,68.9L336.2,67.3L336.3,65.7M337.0,61.4L337.3,59.8L337.7,58.5L338.0,57.3L338.3,56.3L338.7,55.6L339.3,54.5L340.0,54.0L340.7,53.6L341.7,53.4L342.7,53.2L343.7,53.1L344.7,53.0L345.7,52.8L346.7,52.7L347.7,52.6L348.7,52.5L349.7,52.3L350.7,52.2L351.7,52.1L352.7,52.0L353.7,51.9L354.8,51.7L355.8,51.6L356.8,51.5L357.8,51.4L358.8,51.3L359.8,51.1L360.8,51.0L361.8,50.9L362.8,50.8L363.8,50.6L364.8,50.5L365.8,50.4L366.8,50.2L367.8,50.1L368.8,50.0L369.8,49.8L370.8,49.7L371.8,49.5L372.8,49.4L373.8,49.3L374.9,49.1L375.9,49.0L376.9,48.9L377.9,48.7L378.9,48.6L379.9,48.5L380.9,48.4L381.9,48.3L382.9,48.2L383.9,48.1L384.9,48.0L385.9,48.0L386.9,47.9L387.9,47.8L388.9,47.8L389.9,47.7L390.9,47.7L391.9,47.7L392.9,47.6L393.9,47.6L395.0,47.5L396.0,47.5L397.0,47.5L398.0,47.4L399.0,47.4L400.0,47.3L401.0,47.3L402.0,47.3L403.0,47.2L404.0,47.2L405.0,47.2L406.0,47.1L407.0,47.1L408.0,47.1L409.0,47.0L410.0,47.0L411.0,47.0L412.0,46.9L413.0,46.9L414.0,46.9L415.1,46.8L416.1,46.8L417.1,46.8L418.1,46.8L419.1,46.7L420.1,46.7L421.1,46.7L422.1,46.7L423.1,46.6L424.1,46.6L425.1,46.6L426.1,46.6L427.1,46.6L428.1,46.5L429.1,46.5L430.1,46.5L431.1,46.5L432.1,46.5L433.1,46.5L434.1,46.4L435.2,46.4L436.2,46.4L437.2,46.4L438.2,46.4L439.2,46.4L440.2,46.4L441.2,46.4L442.2,46.4L443.2,46.4" fill="none" stroke="#00cccc" stroke-width="2.25" stroke-linecap="round" stroke-linejoin="round"/>
<path d="M327.6,162.5h0M330.0,143.2h0M330.3,140.7h0M330.6,138.4h0M331.0,136.2h0M331.3,134.1h0M331.6,131.9h0M332.0,129.7h0M332.3,127.3h0M333.5,116.6h0M333.6,114.6h0M333.8,112.1h0M334.0,109.5h0M334.1,107.4h0M334.2,105.2h0M334.3,103.0h0M334.4,100.4h0M334.5,97.8h0M334.7,95.1h0M334.7,93.1h0M334.8,91.0h0M334.9,88.9h0M335.0,86.9h0M335.1,84.3h0M335.2,81.8h0M335.3,79.3h0M335.4,77.3h0M335.5,75.3h0M335.7,73.3h0M335.8,71.1h0M336.7,63.4h0" fill="none" stroke="#00cccc" stroke-width="1.9" stroke-linecap="round"/>
<path d="M244.9,177.0L245.9,177.0L246.9,177.0L247.9,177.0L248.9,177.0L249.9,177.0L250.9,177.0L251.9,177.0L252.9,177.0L253.9,177.0L254.9,176.9L255.9,176.9L256.9,176.9L257.9,176.9L258.9,176.9L259.9,176.9L261.0,176.9L262.0,176.8L263.0,176.8L264.0,176.8L265.0,176.8L266.0,176.8L267.0,176.7L268.0,176.7L269.0,176.7L270.0,176.7L271.0,176.6L272.0,176.6L273.0,176.6L274.0,176.6L275.0,176.5L276.0,176.5L277.0,176.5L278.0,176.5L279.0,176.4L280.0,176.4L281.1,176.4L282.1,176.4L283.1,176.3L284.1,176.3L285.1,176.3L286.1,176.2L287.1,176.2L288.1,176.2L289.1,176.1L290.1,176.1L291.1,176.1L292.1,176.0L293.1,176.0L294.1,176.0L295.1,175.9L296.1,175.9L297.1,175.9L298.1,175.8L299.1,175.8L300.1,175.8L301.2,175.7L302.2,175.7L303.2,175.6L304.2,175.6L305.2,175.5L306.2,175.4L307.2,175.4L308.2,175.3L309.2,175.2L310.2,175.2L311.2,175.1L312.2,175.0L313.2,174.9L314.2,174.9L315.2,174.8L316.2,174.7L317.2,174.6L318.2,174.5L319.2,174.4L320.2,174.3L321.3,174.2L322.3,174.1L323.3,174.0L324.3,173.9L325.3,173.8L326.3,173.6L327.3,173.5L328.3,173.4L329.3,173.3L330.3,173.1L331.3,172.9L332.3,172.8L333.3,172.6L334.3,172.4L335.3,172.2L336.3,172.0L337.3,171.8L338.3,171.5L339.3,171.3L340.3,171.1L341.4,170.9L342.4,170.6L343.4,170.4L344.4,170.2L345.4,169.9L346.4,169.6L347.4,169.1L348.4,168.3L349.4,167.2L350.1,166.3L350.7,164.8L351.1,163.3L351.4,160.7L351.7,156.6L352.1,150.5L352.4,142.8L352.7,134.7L353.1,127.7L353.4,122.5L353.7,119.0L354.1,116.3L354.4,113.5L354.8,109.9L355.1,105.4L355.4,100.3L355.8,95.0L356.1,89.8L356.4,84.9L356.8,80.5L357.1,76.7L357.4,73.6L357.8,71.0L358.1,68.8L358.4,66.9L358.8,65.1L359.1,63.6L359.4,62.2L359.8,60.9L360.1,59.8L360.4,58.7L360.8,57.7L361.1,56.7L361.8,55.0L362.5,53.6L363.1,52.6L364.1,51.6L365.1,50.9L366.1,50.4L367.1,50.0L368.2,49.8L369.2,49.6L370.2,49.4L371.2,49.2L372.2,49.1L373.2,48.9L374.2,48.8L375.2,48.6L376.2,48.5L377.2,48.4L378.2,48.3L379.2,48.2L380.2,48.1L381.2,48.0L382.2,47.9L383.2,47.9L384.2,47.8L385.2,47.8L386.2,47.7L387.2,47.7L388.3,47.6L389.3,47.6L390.3,47.5L391.3,47.5L392.3,47.5L393.3,47.4L394.3,47.4L395.3,47.3L396.3,47.3L397.3,47.3L398.3,47.2L399.3,47.2L400.3,47.2L401.3,47.1L402.3,47.1L403.3,47.1L404.3,47.0L405.3,47.0L406.3,47.0L407.3,47.0L408.4,46.9L409.4,46.9L410.4,46.9L411.4,46.8L412.4,46.8L413.4,46.8L414.4,46.8L415.4,46.7L416.4,46.7L417.4,46.7L418.4,46.7L419.4,46.7L420.4,46.6L421.4,46.6L422.4,46.6L423.4,46.6L424.4,46.6L425.4,46.5L426.4,46.5L427.4,46.5L428.5,46.5L429.5,46.5L430.5,46.5L431.5,46.5L432.5,46.4L433.5,46.4L434.5,46.4L435.5,46.4L436.5,46.4L437.5,46.4L438.5,46.4L439.5,46.4L440.5,46.4L441.5,46.4L442.5,46.4" fill="none" stroke="#00cccc" stroke-width="0.7" stroke-opacity="0.7"/>
<path d="M244.9,177.0L245.9,177.0L246.9,177.0L247.9,177.0L248.9,177.0L249.9,177.0L250.9,177.0L251.9,177.0L252.9,177.0L253.9,177.0L254.9,176.9L255.9,176.9L256.9,176.9L257.9,176.9L258.9,176.9L259.9,176.9L261.0,176.9L262.0,176.8L263.0,176.8L264.0,176.8L265.0,176.8L266.0,176.8L267.0,176.7L268.0,176.7L269.0,176.7L270.0,176.7L271.0,176.6L272.0,176.6L273.0,176.6L274.0,176.6L275.0,176.5L276.0,176.5L277.0,176.5L278.0,176.5L279.0,176.4L280.0,176.4L281.1,176.4L282.1,176.4L283.1,176.3L284.1,176.3L285.1,176.3L286.1,176.2L287.1,176.2L288.1,176.2L289.1,176.1L290.1,176.1L291.1,176.1L292.1,176.0L293.1,176.0L294.1,176.0L295.1,175.9L296.1,175.9L297.1,175.9L298.1,175.8L299.1,175.8L300.1,175.8L301.2,175.7L302.2,175.7L303.2,175.6L304.2,175.6L305.2,175.5L306.2,175.4L307.2,175.4L308.2,175.3L309.2,175.2L310.2,175.2L311.2,175.1L312.2,175.0L313.2,174.9L314.2,174.9L315.2,174.8L316.2,174.7L317.2,174.6L318.2,174.5L319.2,174.4L320.2,174.3L321.3,174.2L322.3,174.1L323.3,174.0L324.3,173.9L325.3,173.8L326.3,173.6L327.3,173.5L328.3,173.4L329.3,173.3L330.3,173.1L331.3,172.9L332.3,172.8L333.3,172.6L334.3,172.4L335.3,172.2L336.3,172.0L337.3,171.8L338.3,171.5L339.3,171.3L340.3,171.1L341.4,170.9L342.4,170.6L343.4,170.4L344.4,170.2L345.4,169.9L346.4,169.6L347.0,169.3L347.7,168.9L348.4,168.3L349.1,167.6L349.7,166.8L350.4,165.7L350.7,164.8L351.1,163.3M353.4,122.5L353.6,120.8L353.7,119.0L353.9,117.7L354.1,116.3L354.3,114.9L354.4,113.5L354.6,111.7L354.8,109.9M357.1,76.7L357.3,75.2L357.4,73.6M358.4,66.9L358.8,65.1L359.1,63.6L359.4,62.2L359.8,60.9L360.1,59.8L360.4,58.7L360.8,57.7L361.1,56.7L361.5,55.8L361.8,55.0L362.1,54.2L362.5,53.6L363.1,52.6L363.8,51.9L364.5,51.3L365.1,50.9L365.8,50.5L366.5,50.2L367.1,50.0L368.2,49.8L369.2,49.6L370.2,49.4L371.2,49.2L372.2,49.1L373.2,48.9L374.2,48.8L375.2,48.6L376.2,48.5L377.2,48.4L378.2,48.3L379.2,48.2L380.2,48.1L381.2,48.0L382.2,47.9L383.2,47.9L384.2,47.8L385.2,47.8L386.2,47.7L387.2,47.7L388.3,47.6L389.3,47.6L390.3,47.5L391.3,47.5L392.3,47.5L393.3,47.4L394.3,47.4L395.3,47.3L396.3,47.3L397.3,47.3L398.3,47.2L399.3,47.2L400.3,47.2L401.3,47.1L402.3,47.1L403.3,47.1L404.3,47.0L405.3,47.0L406.3,47.0L407.3,47.0L408.4,46.9L409.4,46.9L410.4,46.9L411.4,46.8L412.4,46.8L413.4,46.8L414.4,46.8L415.4,46.7L416.4,46.7L417.4,46.7L418.4,46.7L419.4,46.7L420.4,46.6L421.4,46.6L422.4,46.6L423.4,46.6L424.4,46.6L425.4,46.5L426.4,46.5L427.4,46.5L428.5,46.5L429.5,46.5L430.5,46.5L431.5,46.5L432.5,46.4L433.5,46.4L434.5,46.4L435.5,46.4L436.5,46.4L437.5,46.4L438.5,46.4L439.5,46.4L440.5,46.4L441.5,46.4L442.5,46.4L443.2,46.4" fill="none" stroke="#00cccc" stroke-width="2.25" stroke-linecap="round" stroke-linejoin="round"/>
<path d="M351.4,160.7h0M351.6,158.7h0M351.7,156.6h0M351.9,154.5h0M352.0,152.5h0M352.1,150.5h0M352.2,147.9h0M352.3,145.4h0M352.4,142.8h0M352.5,140.1h0M352.6,137.4h0M352.7,134.7h0M352.9,132.4h0M353.0,130.0h0M353.1,127.7h0M353.2,125.1h0M354.9,107.7h0M355.1,105.4h0M355.3,102.9h0M355.4,100.3h0M355.6,97.6h0M355.8,95.0h0M355.9,92.4h0M356.1,89.8h0M356.3,87.4h0M356.4,84.9h0M356.6,82.7h0M356.8,80.5h0M356.9,78.6h0M357.8,71.0h0M358.1,68.8h0" fill="none" stroke="#00cccc" stroke-width="1.9" stroke-linecap="round"/>
<path d="M244.9,178.4L245.9,178.3L246.9,178.3L247.9,178.2L248.9,178.1L249.9,178.1L250.9,178.0L251.9,177.9L252.9,177.9L253.9,177.8L254.9,177.7L255.9,177.7L256.9,177.6L257.9,177.5L258.9,177.4L259.9,177.4L261.0,177.3L262.0,177.2L263.0,177.2L264.0,177.1L265.0,177.0L266.0,176.9L267.0,176.9L268.0,176.8L269.0,176.7L270.0,176.6L271.0,176.5L272.0,176.5L273.0,176.4L274.0,176.3L275.0,176.2L276.0,176.1L277.0,176.1L278.0,176.0L279.0,175.9L280.0,175.8L281.1,175.7L282.1,175.7L283.1,175.6L284.1,175.5L285.1,175.4L286.1,175.4L287.1,175.3L288.1,175.2L289.1,175.2L290.1,175.1L291.1,175.0L292.1,174.9L293.1,174.9L294.1,174.8L295.1,174.7L296.1,174.7L297.1,174.6L298.1,174.5L299.1,174.5L300.1,174.4L301.2,174.3L302.2,174.2L303.2,174.1L304.2,174.1L305.2,174.0L306.2,173.9L307.2,173.8L308.2,173.7L309.2,173.6L310.2,173.5L311.2,173.4L312.2,173.2L313.2,173.1L314.2,173.0L315.2,172.9L316.2,172.7L317.2,172.6L318.2,172.4L319.2,172.3L320.2,172.1L321.3,172.0L322.3,171.8L323.3,171.6L324.3,171.4L325.3,171.2L326.3,171.0L327.3,170.7L328.3,170.4L329.3,169.9L330.3,169.4L331.3,168.8L332.3,168.1L333.3,167.1L334.0,165.9L334.3,164.7L334.7,163.2L335.0,161.4L335.3,159.3L335.7,157.1L336.0,154.8L336.3,152.5L336.7,150.1L337.0,147.6L337.3,144.9L337.7,142.1L338.0,139.2L338.3,136.1L338.7,132.9L339.0,129.6L339.3,126.1L339.7,122.5L340.0,118.9L340.3,115.3L340.7,111.7L341.0,108.1L341.4,104.5L341.7,100.9L342.0,97.3L342.4,93.8L342.7,90.5L343.0,87.2L343.4,84.1L343.7,80.9L344.0,77.8L344.4,74.8L344.7,72.1L345.0,69.7L345.4,67.6L345.7,66.0L346.0,64.7L346.4,63.6L346.7,62.6L347.4,61.0L348.1,59.7L348.7,58.6L349.4,57.7L350.1,56.9L350.7,56.2L351.7,55.2L352.7,54.4L353.7,53.9L354.8,53.5L355.8,53.2L356.8,52.9L357.8,52.6L358.8,52.4L359.8,52.1L360.8,51.9L361.8,51.8L362.8,51.6L363.8,51.4L364.8,51.3L365.8,51.1L366.8,51.0L367.8,50.8L368.8,50.7L369.8,50.6L370.8,50.4L371.8,50.3L372.8,50.1L373.8,50.0L374.9,49.9L375.9,49.7L376.9,49.6L377.9,49.5L378.9,49.3L379.9,49.2L380.9,49.1L381.9,49.0L382.9,48.8L383.9,48.7L384.9,48.6L385.9,48.5L386.9,48.3L387.9,48.2L388.9,48.1L389.9,48.0L390.9,47.9L391.9,47.8L392.9,47.6L393.9,47.5L395.0,47.4L396.0,47.3L397.0,47.2L398.0,47.1L399.0,47.0L400.0,46.9L401.0,46.8L402.0,46.7L403.0,46.6L404.0,46.5L405.0,46.4L406.0,46.4L407.0,46.3L408.0,46.2L409.0,46.1L410.0,46.0L411.0,46.0L412.0,45.9L413.0,45.8L414.0,45.7L415.1,45.7L416.1,45.6L417.1,45.5L418.1,45.5L419.1,45.4L420.1,45.4L421.1,45.3L422.1,45.3L423.1,45.2L424.1,45.2L425.1,45.1L426.1,45.1L427.1,45.1L428.1,45.0L429.1,45.0L430.1,45.0L431.1,44.9L432.1,44.9L433.1,44.9L434.1,44.9L435.2,44.9L436.2,44.8L437.2,44.8L438.2,44.8L439.2,44.8L440.2,44.8L441.2,44.8L442.2,44.8L443.2,44.7" fill="none" stroke="#7f0000" stroke-width="0.7" stroke-opacity="0.7"/>
<path d="M244.9,178.4L245.9,178.3L246.9,178.3L247.9,178.2L248.9,178.1L249.9,178.1L250.9,178.0L251.9,177.9L252.9,177.9L253.9,177.8L254.9,177.7L255.9,177.7L256.9,177.6L257.9,177.5L258.9,177.4L259.9,177.4L261.0,177.3L262.0,177.2L263.0,177.2L264.0,177.1L265.0,177.0L266.0,176.9L267.0,176.9L268.0,176.8L269.0,176.7L270.0,176.6L271.0,176.5L272.0,176.5L273.0,176.4L274.0,176.3L275.0,176.2L276.0,176.1L277.0,176.1L278.0,176.0L279.0,175.9L280.0,175.8L281.1,175.7L282.1,175.7L283.1,175.6L284.1,175.5L285.1,175.4L286.1,175.4L287.1,175.3L288.1,175.2L289.1,175.2L290.1,175.1L291.1,175.0L292.1,174.9L293.1,174.9L294.1,174.8L295.1,174.7L296.1,174.7L297.1,174.6L298.1,174.5L299.1,174.5L300.1,174.4L301.2,174.3L302.2,174.2L303.2,174.1L304.2,174.1L305.2,174.0L306.2,173.9L307.2,173.8L308.2,173.7L309.2,173.6L310.2,173.5L311.2,173.4L312.2,173.2L313.2,173.1L314.2,173.0L315.2,172.9L316.2,172.7L317.2,172.6L318.2,172.4L319.2,172.3L320.2,172.1L321.3,172.0L322.3,171.8L323.3,171.6L324.3,171.4L325.3,171.2L326.3,171.0L327.3,170.7L328.0,170.5L328.6,170.2L329.3,169.9L330.0,169.6L330.6,169.2L331.3,168.8L332.0,168.3L332.6,167.8L333.3,167.1L334.0,165.9L334.3,164.7L334.7,163.2L335.0,161.4M337.3,144.9L337.5,143.5L337.7,142.1L337.8,140.6L338.0,139.2L338.2,137.6L338.3,136.1L338.5,134.5L338.7,132.9L338.8,131.2L339.0,129.6L339.2,127.8L339.3,126.1L339.5,124.3L339.7,122.5L339.8,120.7L340.0,118.9L340.2,117.1L340.3,115.3L340.5,113.5L340.7,111.7L340.9,109.9L341.0,108.1L341.2,106.3L341.4,104.5L341.5,102.7L341.7,100.9L341.9,99.1L342.0,97.3L342.2,95.6L342.4,93.8L342.5,92.2L342.7,90.5L342.9,88.9L343.0,87.2L343.2,85.6L343.4,84.1L343.5,82.5L343.7,80.9L343.9,79.4L344.0,77.8L344.2,76.3L344.4,74.8L344.5,73.5L344.7,72.1M345.4,67.6L345.7,66.0L346.0,64.7L346.4,63.6L346.7,62.6L347.0,61.8L347.4,61.0L347.7,60.3L348.1,59.7L348.7,58.6L349.4,57.7L350.1,56.9L350.7,56.2L351.4,55.5L352.1,54.9L352.7,54.4L353.4,54.1L354.1,53.8L354.8,53.5L355.4,53.3L356.1,53.1L357.1,52.8L358.1,52.5L359.1,52.3L360.1,52.1L361.1,51.9L362.1,51.7L363.1,51.5L364.1,51.4L365.1,51.2L366.1,51.1L367.1,50.9L368.2,50.8L369.2,50.7L370.2,50.5L371.2,50.4L372.2,50.2L373.2,50.1L374.2,50.0L375.2,49.8L376.2,49.7L377.2,49.6L378.2,49.4L379.2,49.3L380.2,49.2L381.2,49.0L382.2,48.9L383.2,48.8L384.2,48.7L385.2,48.5L386.2,48.4L387.2,48.3L388.3,48.2L389.3,48.1L390.3,47.9L391.3,47.8L392.3,47.7L393.3,47.6L394.3,47.5L395.3,47.4L396.3,47.3L397.3,47.2L398.3,47.1L399.3,47.0L400.3,46.9L401.3,46.8L402.3,46.7L403.3,46.6L404.3,46.5L405.3,46.4L406.3,46.3L407.3,46.2L408.4,46.2L409.4,46.1L410.4,46.0L411.4,45.9L412.4,45.9L413.4,45.8L414.4,45.7L415.4,45.6L416.4,45.6L417.4,45.5L418.4,45.5L419.4,45.4L420.4,45.4L421.4,45.3L422.4,45.3L423.4,45.2L424.4,45.2L425.4,45.1L426.4,45.1L427.4,45.1L428.5,45.0L429.5,45.0L430.5,45.0L431.5,44.9L432.5,44.9L433.5,44.9L434.5,44.9L435.5,44.9L436.5,44.8L437.5,44.8L438.5,44.8L439.5,44.8L440.5,44.8L441.5,44.8L442.5,44.8L443.2,44.7" fill="none" stroke="#7f0000" stroke-width="2.25" stroke-linecap="round" stroke-linejoin="round"/>
<path d="M335.3,159.3h0M335.7,157.1h0M336.0,154.8h0M336.3,152.5h0M336.7,150.1h0M337.0,147.6h0M345.0,69.7h0" fill="none" stroke="#7f0000" stroke-width="1.9" stroke-linecap="round"/>
<path d="M244.9,178.6L245.9,178.6L246.9,178.6L247.9,178.6L248.9,178.6L249.9,178.6L250.9,178.6L251.9,178.5L252.9,178.5L253.9,178.5L254.9,178.5L255.9,178.5L256.9,178.4L257.9,178.4L258.9,178.4L259.9,178.3L261.0,178.3L262.0,178.3L263.0,178.2L264.0,178.2L265.0,178.1L266.0,178.1L267.0,178.0L268.0,177.9L269.0,177.9L270.0,177.8L271.0,177.7L272.0,177.7L273.0,177.6L274.0,177.5L275.0,177.4L276.0,177.4L277.0,177.3L278.0,177.2L279.0,177.1L280.0,177.0L281.1,176.9L282.1,176.8L283.1,176.7L284.1,176.6L285.1,176.5L286.1,176.4L287.1,176.3L288.1,176.2L289.1,176.1L290.1,176.0L291.1,175.9L292.1,175.8L293.1,175.7L294.1,175.6L295.1,175.5L296.1,175.4L297.1,175.2L298.1,175.1L299.1,175.0L300.1,174.9L301.2,174.8L302.2,174.6L303.2,174.5L304.2,174.4L305.2,174.3L306.2,174.2L307.2,174.0L308.2,173.9L309.2,173.8L310.2,173.7L311.2,173.6L312.2,173.4L313.2,173.3L314.2,173.2L315.2,173.1L316.2,173.0L317.2,172.8L318.2,172.7L319.2,172.6L320.2,172.5L321.3,172.4L322.3,172.2L323.3,172.1L324.3,172.0L325.3,171.8L326.3,171.7L327.3,171.6L328.3,171.4L329.3,171.3L330.3,171.1L331.3,170.9L332.3,170.8L333.3,170.6L334.3,170.4L335.3,170.2L336.3,170.0L337.3,169.7L338.3,169.4L339.3,168.9L340.3,168.3L341.4,167.5L342.4,166.4L343.0,165.3L343.7,163.6L344.0,162.1L344.4,159.7L344.7,156.2L345.0,151.7L345.4,146.0L345.7,138.9L346.0,130.5L346.4,121.6L346.7,113.7L347.0,107.6L347.4,102.9L347.7,99.2L348.1,95.9L348.4,92.9L348.7,90.1L349.1,87.1L349.4,84.2L349.7,81.3L350.1,78.5L350.4,75.8L350.7,73.3L351.1,70.9L351.4,68.6L351.7,66.3L352.1,64.1L352.4,62.0L352.7,60.2L353.1,58.7L353.4,57.5L354.1,56.3L355.1,55.3L356.1,54.6L357.1,54.0L358.1,53.5L359.1,53.0L360.1,52.7L361.1,52.4L362.1,52.2L363.1,52.0L364.1,51.8L365.1,51.6L366.1,51.4L367.1,51.3L368.2,51.1L369.2,51.0L370.2,50.8L371.2,50.7L372.2,50.5L373.2,50.4L374.2,50.3L375.2,50.2L376.2,50.0L377.2,49.9L378.2,49.8L379.2,49.7L380.2,49.6L381.2,49.5L382.2,49.4L383.2,49.3L384.2,49.3L385.2,49.2L386.2,49.1L387.2,49.0L388.3,48.9L389.3,48.9L390.3,48.8L391.3,48.7L392.3,48.7L393.3,48.6L394.3,48.5L395.3,48.5L396.3,48.4L397.3,48.3L398.3,48.2L399.3,48.2L400.3,48.1L401.3,48.0L402.3,48.0L403.3,47.9L404.3,47.8L405.3,47.7L406.3,47.7L407.3,47.6L408.4,47.5L409.4,47.4L410.4,47.3L411.4,47.3L412.4,47.2L413.4,47.1L414.4,47.0L415.4,46.9L416.4,46.9L417.4,46.8L418.4,46.7L419.4,46.6L420.4,46.5L421.4,46.5L422.4,46.4L423.4,46.3L424.4,46.2L425.4,46.2L426.4,46.1L427.4,46.0L428.5,46.0L429.5,45.9L430.5,45.8L431.5,45.7L432.5,45.7L433.5,45.6L434.5,45.5L435.5,45.5L436.5,45.4L437.5,45.3L438.5,45.3L439.5,45.2L440.5,45.1L441.5,45.1L442.5,45.0" fill="none" stroke="#7f0000" stroke-width="0.7" stroke-opacity="0.7"/>
<path d="M244.9,178.6L245.9,178.6L246.9,178.6L247.9,178.6L248.9,178.6L249.9,178.6L250.9,178.6L251.9,178.5L252.9,178.5L253.9,178.5L254.9,178.5L255.9,178.5L256.9,178.4L257.9,178.4L258.9,178.4L259.9,178.3L261.0,178.3L262.0,178.3L263.0,178.2L264.0,178.2L265.0,178.1L266.0,178.1L267.0,178.0L268.0,177.9L269.0,177.9L270.0,177.8L271.0,177.7L272.0,177.7L273.0,177.6L274.0,177.5L275.0,177.4L276.0,177.4L277.0,177.3L278.0,177.2L279.0,177.1L280.0,177.0L281.1,176.9L282.1,176.8L283.1,176.7L284.1,176.6L285.1,176.5L286.1,176.4L287.1,176.3L288.1,176.2L289.1,176.1L290.1,176.0L291.1,175.9L292.1,175.8L293.1,175.7L294.1,175.6L295.1,175.5L296.1,175.4L297.1,175.2L298.1,175.1L299.1,175.0L300.1,174.9L301.2,174.8L302.2,174.6L303.2,174.5L304.2,174.4L305.2,174.3L306.2,174.2L307.2,174.0L308.2,173.9L309.2,173.8L310.2,173.7L311.2,173.6L312.2,173.4L313.2,173.3L314.2,173.2L315.2,173.1L316.2,173.0L317.2,172.8L318.2,172.7L319.2,172.6L320.2,172.5L321.3,172.4L322.3,172.2L323.3,172.1L324.3,172.0L325.3,171.8L326.3,171.7L327.3,171.6L328.3,171.4L329.3,171.3L330.3,171.1L331.3,170.9L332.3,170.8L333.3,170.6L334.3,170.4L335.3,170.2L336.3,170.0L337.3,169.7L338.0,169.5L338.7,169.2L339.3,168.9L340.0,168.5L340.7,168.0L341.4,167.5L342.0,166.8L342.7,165.9L343.4,164.6L343.7,163.6L344.0,162.1M344.4,159.7L344.5,158.0L344.7,156.2M347.4,102.9L347.6,101.0L347.7,99.2L347.9,97.5L348.1,95.9L348.2,94.4L348.4,92.9L348.6,91.5L348.7,90.1L348.9,88.6L349.1,87.1L349.2,85.7L349.4,84.2L349.6,82.7L349.7,81.3L349.9,79.9L350.1,78.5M352.4,62.0L352.7,60.2L353.1,58.7L353.4,57.5L353.7,56.8L354.4,55.9L355.1,55.3L355.8,54.8L356.4,54.4L357.1,54.0L357.8,53.6L358.4,53.3L359.1,53.0L359.8,52.8L360.8,52.5L361.8,52.3L362.8,52.1L363.8,51.9L364.8,51.7L365.8,51.5L366.8,51.3L367.8,51.2L368.8,51.0L369.8,50.9L370.8,50.7L371.8,50.6L372.8,50.4L373.8,50.3L374.9,50.2L375.9,50.1L376.9,50.0L377.9,49.9L378.9,49.8L379.9,49.7L380.9,49.6L381.9,49.5L382.9,49.4L383.9,49.3L384.9,49.2L385.9,49.1L386.9,49.0L387.9,49.0L388.9,48.9L389.9,48.8L390.9,48.7L391.9,48.7L392.9,48.6L393.9,48.5L395.0,48.5L396.0,48.4L397.0,48.3L398.0,48.3L399.0,48.2L400.0,48.1L401.0,48.1L402.0,48.0L403.0,47.9L404.0,47.8L405.0,47.8L406.0,47.7L407.0,47.6L408.0,47.5L409.0,47.4L410.0,47.4L411.0,47.3L412.0,47.2L413.0,47.1L414.0,47.0L415.1,47.0L416.1,46.9L417.1,46.8L418.1,46.7L419.1,46.6L420.1,46.6L421.1,46.5L422.1,46.4L423.1,46.3L424.1,46.3L425.1,46.2L426.1,46.1L427.1,46.1L428.1,46.0L429.1,45.9L430.1,45.8L431.1,45.8L432.1,45.7L433.1,45.6L434.1,45.6L435.2,45.5L436.2,45.4L437.2,45.4L438.2,45.3L439.2,45.2L440.2,45.2L441.2,45.1L442.2,45.0L443.2,45.0" fill="none" stroke="#7f0000" stroke-width="2.25" stroke-linecap="round" stroke-linejoin="round"/>
<path d="M344.9,154.0h0M345.0,151.7h0M345.2,149.8h0M345.3,147.9h0M345.4,146.0h0M345.5,143.7h0M345.6,141.3h0M345.7,138.9h0M345.8,136.8h0M345.9,134.7h0M346.0,132.6h0M346.0,130.5h0M346.1,128.3h0M346.2,126.1h0M346.3,123.9h0M346.4,121.6h0M346.5,119.0h0M346.6,116.3h0M346.7,113.7h0M346.8,111.6h0M346.9,109.6h0M347.0,107.6h0M347.2,105.2h0M350.4,75.8h0M350.7,73.3h0M351.1,70.9h0M351.4,68.6h0M351.7,66.3h0M352.1,64.1h0" fill="none" stroke="#7f0000" stroke-width="1.9" stroke-linecap="round"/>
</g>
<line x1="242.0" y1="111.7" x2="446.4" y2="111.7" stroke="#000" stroke-width="1.3"/>
<line x1="344.0" y1="9.4" x2="344.0" y2="213.4" stroke="#000" stroke-width="1.1"/>
<path d="M242.0,213.8h5.5M242.0,193.4h5.5M242.0,173.0h5.5M242.0,152.5h5.5M242.0,132.1h5.5M242.0,111.7h5.5M242.0,91.3h5.5M242.0,70.9h5.5M242.0,50.4h5.5M242.0,30.0h5.5M242.0,9.6h5.5M242.0,203.6h3M242.0,183.2h3M242.0,162.8h3M242.0,142.3h3M242.0,121.9h3M242.0,101.5h3M242.0,81.1h3M242.0,60.6h3M242.0,40.2h3M242.0,19.8h3M244.7,213.4v-5.5M277.8,213.4v-5.5M310.9,213.4v-5.5M344.0,213.4v-5.5M377.1,213.4v-5.5M410.2,213.4v-5.5M443.3,213.4v-5.5M261.2,213.4v-3M294.4,213.4v-3M327.4,213.4v-3M360.6,213.4v-3M393.6,213.4v-3M426.8,213.4v-3" stroke="#000" stroke-width="1.1" fill="none"/>
<rect x="242.0" y="9.4" width="204.39999999999998" height="204.0" fill="none" stroke="#000" stroke-width="1.3"/>
<g font-size="13.8">
<text x="239.5" y="218.1" text-anchor="end">-5</text>
<text x="239.5" y="197.7" text-anchor="end">-4</text>
<text x="239.5" y="177.3" text-anchor="end">-3</text>
<text x="239.5" y="156.8" text-anchor="end">-2</text>
<text x="239.5" y="136.4" text-anchor="end">-1</text>
<text x="239.5" y="116.0" text-anchor="end">0</text>
<text x="239.5" y="95.6" text-anchor="end">1</text>
<text x="239.5" y="75.2" text-anchor="end">2</text>
<text x="239.5" y="54.7" text-anchor="end">3</text>
<text x="239.5" y="34.3" text-anchor="end">4</text>
<text x="239.5" y="13.9" text-anchor="end">5</text>
<text x="245.3" y="228.2" text-anchor="middle">-3</text>
<text x="278.4" y="228.2" text-anchor="middle">-2</text>
<text x="311.5" y="228.2" text-anchor="middle">-1</text>
<text x="344.0" y="228.2" text-anchor="middle">0</text>
<text x="377.1" y="228.2" text-anchor="middle">1</text>
<text x="410.2" y="228.2" text-anchor="middle">2</text>
<text x="443.3" y="228.2" text-anchor="middle">3</text>
</g>
<text x="250.6" y="27.0" font-size="15" letter-spacing="0.5">Fe<tspan font-size="10.5" dy="4.9" letter-spacing="0">1-<tspan class="ser" font-size="11">x</tspan></tspan><tspan dy="-4.9">Pt</tspan><tspan class="ser" font-size="12" dy="4.9">x</tspan></text>
<line x1="251" y1="46.6" x2="266.3" y2="46.6" stroke="#777" stroke-width="0.9"/><circle cx="258.6" cy="46.6" r="1.3" fill="#000"/>
<text x="270.3" y="51.1" font-size="13"><tspan font-family="Liberation Serif,serif" font-style="italic" font-size="16.5">x</tspan> = 0.30</text>
<line x1="251" y1="63.0" x2="266.3" y2="63.0" stroke="#ff8080" stroke-width="0.9"/><circle cx="258.65" cy="63.0" r="1.3" fill="#f00"/><text x="269.6" y="67.5" font-size="13">0.34</text>
<line x1="251" y1="79.2" x2="266.3" y2="79.2" stroke="#8080ff" stroke-width="0.9"/><circle cx="258.65" cy="79.2" r="1.3" fill="#00f"/><text x="269.6" y="83.7" font-size="13">0.39</text>
<line x1="251" y1="95.5" x2="266.3" y2="95.5" stroke="#80bf80" stroke-width="0.9"/><circle cx="258.65" cy="95.5" r="1.3" fill="#007f00"/><text x="269.6" y="100.0" font-size="13">0.44</text>
<line x1="385" y1="139.8" x2="399.3" y2="139.8" stroke="#c9a0ff" stroke-width="0.9"/><circle cx="392.15" cy="139.8" r="1.3" fill="#7f00ff"/><text x="402.8" y="144.3" font-size="13">0.49</text>
<line x1="385" y1="155.9" x2="399.3" y2="155.9" stroke="#b8b870" stroke-width="0.9"/><circle cx="392.15" cy="155.9" r="1.3" fill="#7f7f00"/><text x="402.8" y="160.4" font-size="13">0.54</text>
<line x1="385" y1="171.9" x2="399.3" y2="171.9" stroke="#7fe5e5" stroke-width="0.9"/><circle cx="392.15" cy="171.9" r="1.3" fill="#00cccc"/><text x="402.8" y="176.4" font-size="13">0.59</text>
<line x1="385" y1="187.9" x2="399.3" y2="187.9" stroke="#d0a0a0" stroke-width="0.9"/><circle cx="392.15" cy="187.9" r="1.3" fill="#7f0000"/><text x="402.8" y="192.4" font-size="13">0.65</text>
<text id="yl" transform="translate(214.5,160.8) rotate(-90)" font-size="19.8"><tspan font-style="italic">ρ</tspan><tspan font-size="13" font-style="italic" dy="4.5">yx</tspan></text>
<text id="yl2" transform="translate(212.8,135.8) rotate(-90)" font-size="20.4" letter-spacing="0.25">(μΩ cm)</text>
<text id="xl" x="313" y="244.6" font-size="20"><tspan font-style="italic">μ</tspan><tspan font-size="13" font-style="italic" dy="4.5">0</tspan><tspan font-style="italic" dy="-4.5">H</tspan> (T)</text>
</svg>
</body></html>
